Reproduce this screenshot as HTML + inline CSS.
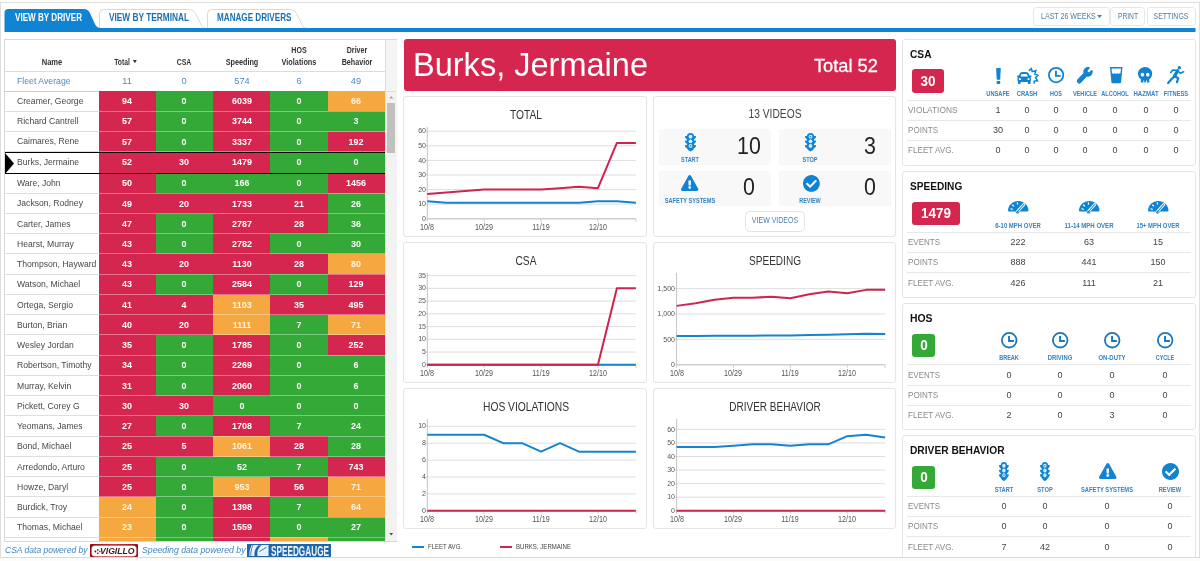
<!DOCTYPE html>
<html lang="en"><head><meta charset="utf-8"><title>Driver Scorecard</title>
<style>
html,body{margin:0;padding:0}
body{width:1200px;height:561px;overflow:hidden;position:relative;background:#fcfcfa;font-family:"Liberation Sans",sans-serif}
#frame{position:absolute;left:0;top:2px;width:1197.6px;height:555px;border:1px solid #dedede;background:#fff}
#mask{position:absolute;left:0;top:557px;width:1200px;height:4px;background:#fcfcfa;border-top:1px solid #dadada;box-sizing:border-box}
.t{position:absolute;white-space:nowrap;line-height:1;display:block}
svg{display:block;overflow:visible}
</style></head><body>
<div id="frame"></div>
<svg style="position:absolute;left:0;top:0" width="1200" height="36" viewBox="0 0 1200 36">
<path d="M99.500 28.500V13.500q0-4 4-4H188.500q5 0 7.500 5l5.500 11q1.500 3 5 3z" fill="#fff" stroke="#d9d9d9" stroke-width="1"/>
<path d="M207.500 28.500V13.500q0-4 4-4H289.500q5 0 7.500 5l5.500 11q1.500 3 5 3z" fill="#fff" stroke="#d9d9d9" stroke-width="1"/>
<path d="M4.500 32V13q0-4 4-4H83.500q4.500 0 6.500 4.200l5.200 11.300q1.800 3.500 5.800 3.500H1195.500V32z" fill="#1083d3"/>
</svg>
<span class="t" style="left:15.20px;top:12.93px;font-size:10px;color:#fff;transform-origin:0 0;transform:scaleX(0.8110);font-weight:bold">VIEW BY DRIVER</span>
<span class="t" style="left:109.20px;top:12.93px;font-size:10px;color:#186fb3;transform-origin:0 0;transform:scaleX(0.8291);font-weight:bold">VIEW BY TERMINAL</span>
<span class="t" style="left:217.20px;top:12.93px;font-size:10px;color:#186fb3;transform-origin:0 0;transform:scaleX(0.8126);font-weight:bold">MANAGE DRIVERS</span>
<div style="position:absolute;left:1033.40px;top:7.00px;width:74.20px;height:17.40px;border:1px solid #e6e6e6;border-radius:3.5px;background:#fff"></div>
<div style="position:absolute;left:1110.30px;top:7.00px;width:33.00px;height:17.40px;border:1px solid #e6e6e6;border-radius:3.5px;background:#fff"></div>
<div style="position:absolute;left:1146.80px;top:7.00px;width:47.40px;height:17.40px;border:1px solid #e6e6e6;border-radius:3.5px;background:#fff"></div>
<span class="t" style="left:1040.50px;top:11.78px;font-size:9px;color:#4c7ea6;transform-origin:0 0;transform:scaleX(0.7844)">LAST 26 WEEKS</span>
<svg style="position:absolute;left:1097.3px;top:15.2px" width="5" height="3" viewBox="0 0 5 3"><path d="M0 0h5L2.500 3z" fill="#4c7ea6"/></svg>
<span class="t" style="left:1127.80px;top:11.78px;font-size:9px;color:#4c7ea6;transform-origin:50% 0;transform:translateX(-50%) scaleX(0.7481)">PRINT</span>
<span class="t" style="left:1171.30px;top:11.78px;font-size:9px;color:#4c7ea6;transform-origin:50% 0;transform:translateX(-50%) scaleX(0.7777)">SETTINGS</span>
<div style="position:absolute;left:4.00px;top:39.00px;width:392.60px;height:502.80px;border:1px solid #d8d8d8;background:#fff;box-sizing:border-box"></div>
<span class="t" style="left:51.70px;top:57.50px;font-size:8.5px;color:#333;transform-origin:50% 0;transform:translateX(-50%) scaleX(0.8898);font-weight:bold">Name</span>
<span class="t" style="left:121.90px;top:57.50px;font-size:8.5px;color:#333;transform-origin:50% 0;transform:translateX(-50%) scaleX(0.7929);font-weight:bold">Total</span>
<svg style="position:absolute;left:133.2px;top:60.4px" width="3.800" height="3.400" viewBox="0 0 4 3.500"><path d="M0 0h4L2 3.500z" fill="#333"/></svg>
<span class="t" style="left:184.00px;top:57.50px;font-size:8.5px;color:#333;transform-origin:50% 0;transform:translateX(-50%) scaleX(0.8135);font-weight:bold">CSA</span>
<span class="t" style="left:241.90px;top:57.50px;font-size:8.5px;color:#333;transform-origin:50% 0;transform:translateX(-50%) scaleX(0.8522);font-weight:bold">Speeding</span>
<span class="t" style="left:299.10px;top:45.80px;font-size:8.5px;color:#333;transform-origin:50% 0;transform:translateX(-50%) scaleX(0.8306);font-weight:bold">HOS</span>
<span class="t" style="left:299.10px;top:57.50px;font-size:8.5px;color:#333;transform-origin:50% 0;transform:translateX(-50%) scaleX(0.8600);font-weight:bold">Violations</span>
<span class="t" style="left:356.50px;top:45.80px;font-size:8.5px;color:#333;transform-origin:50% 0;transform:translateX(-50%) scaleX(0.8343);font-weight:bold">Driver</span>
<span class="t" style="left:356.50px;top:57.50px;font-size:8.5px;color:#333;transform-origin:50% 0;transform:translateX(-50%) scaleX(0.8412);font-weight:bold">Behavior</span>
<div style="position:absolute;left:5.00px;top:71.00px;width:380.00px;height:1.00px;background:#dcdcdc"></div>
<div style="position:absolute;left:5.00px;top:90.60px;width:380.00px;height:1.00px;background:#d0d0d0"></div>
<span class="t" style="left:16.80px;top:76.36px;font-size:9.5px;color:#5289b8;transform-origin:0 0;transform:scaleX(0.9170)">Fleet Average</span>
<span class="t" style="left:127.35px;top:76.36px;font-size:9.5px;color:#5289b8;transform-origin:50% 0;transform:translateX(-50%) scaleX(0.9700)">11</span>
<span class="t" style="left:184.35px;top:76.36px;font-size:9.5px;color:#5289b8;transform-origin:50% 0;transform:translateX(-50%) scaleX(0.9700)">0</span>
<span class="t" style="left:241.65px;top:76.36px;font-size:9.5px;color:#5289b8;transform-origin:50% 0;transform:translateX(-50%) scaleX(0.9700)">574</span>
<span class="t" style="left:299.05px;top:76.36px;font-size:9.5px;color:#5289b8;transform-origin:50% 0;transform:translateX(-50%) scaleX(0.9700)">6</span>
<span class="t" style="left:356.40px;top:76.36px;font-size:9.5px;color:#5289b8;transform-origin:50% 0;transform:translateX(-50%) scaleX(0.9700)">49</span>
<div style="position:absolute;left:385.00px;top:40.00px;width:10.60px;height:500.80px;background:#f2f2f2;border-left:1px solid #e4e4e4"></div>
<div style="position:absolute;left:385.00px;top:40.00px;width:10.60px;height:51.50px;background:#f4f4f4;border-left:1px solid #dcdcdc;border-bottom:1px solid #dcdcdc;box-sizing:border-box"></div>
<div style="position:absolute;left:386.80px;top:102.50px;width:8.00px;height:50.50px;background:#c1c1c1"></div>
<svg style="position:absolute;left:388.7px;top:96.2px" width="4.400" height="2.400" viewBox="0 0 5 3"><path d="M0 3h5L2.500 0z" fill="#a3a3a3"/></svg>
<svg style="position:absolute;left:388.7px;top:532.5px" width="4.400" height="2.400" viewBox="0 0 5 3"><path d="M0 0h5L2.500 3z" fill="#505050"/></svg>
<div style="position:absolute;left:99.00px;top:91.00px;width:56.70px;height:20.85px;background:#d5264f"></div>
<div style="position:absolute;left:155.70px;top:91.00px;width:57.30px;height:20.85px;background:#35a937"></div>
<div style="position:absolute;left:213.00px;top:91.00px;width:57.30px;height:20.85px;background:#d5264f"></div>
<div style="position:absolute;left:270.30px;top:91.00px;width:57.50px;height:20.85px;background:#35a937"></div>
<div style="position:absolute;left:327.80px;top:91.00px;width:57.20px;height:20.85px;background:#f5a840"></div>
<div style="position:absolute;left:99.00px;top:111.25px;width:56.70px;height:20.85px;background:#d5264f"></div>
<div style="position:absolute;left:155.70px;top:111.25px;width:57.30px;height:20.85px;background:#35a937"></div>
<div style="position:absolute;left:213.00px;top:111.25px;width:57.30px;height:20.85px;background:#d5264f"></div>
<div style="position:absolute;left:270.30px;top:111.25px;width:57.50px;height:20.85px;background:#35a937"></div>
<div style="position:absolute;left:327.80px;top:111.25px;width:57.20px;height:20.85px;background:#35a937"></div>
<div style="position:absolute;left:99.00px;top:131.50px;width:56.70px;height:20.85px;background:#d5264f"></div>
<div style="position:absolute;left:155.70px;top:131.50px;width:57.30px;height:20.85px;background:#35a937"></div>
<div style="position:absolute;left:213.00px;top:131.50px;width:57.30px;height:20.85px;background:#d5264f"></div>
<div style="position:absolute;left:270.30px;top:131.50px;width:57.50px;height:20.85px;background:#35a937"></div>
<div style="position:absolute;left:327.80px;top:131.50px;width:57.20px;height:20.85px;background:#d5264f"></div>
<div style="position:absolute;left:99.00px;top:151.75px;width:56.70px;height:22.10px;background:#d5264f"></div>
<div style="position:absolute;left:155.70px;top:151.75px;width:57.30px;height:22.10px;background:#d5264f"></div>
<div style="position:absolute;left:213.00px;top:151.75px;width:57.30px;height:22.10px;background:#d5264f"></div>
<div style="position:absolute;left:270.30px;top:151.75px;width:57.50px;height:22.10px;background:#35a937"></div>
<div style="position:absolute;left:327.80px;top:151.75px;width:57.20px;height:22.10px;background:#35a937"></div>
<div style="position:absolute;left:99.00px;top:173.25px;width:56.70px;height:20.84px;background:#d5264f"></div>
<div style="position:absolute;left:155.70px;top:173.25px;width:57.30px;height:20.84px;background:#35a937"></div>
<div style="position:absolute;left:213.00px;top:173.25px;width:57.30px;height:20.84px;background:#35a937"></div>
<div style="position:absolute;left:270.30px;top:173.25px;width:57.50px;height:20.84px;background:#35a937"></div>
<div style="position:absolute;left:327.80px;top:173.25px;width:57.20px;height:20.84px;background:#d5264f"></div>
<div style="position:absolute;left:99.00px;top:193.49px;width:56.70px;height:20.83px;background:#d5264f"></div>
<div style="position:absolute;left:155.70px;top:193.49px;width:57.30px;height:20.83px;background:#d5264f"></div>
<div style="position:absolute;left:213.00px;top:193.49px;width:57.30px;height:20.83px;background:#d5264f"></div>
<div style="position:absolute;left:270.30px;top:193.49px;width:57.50px;height:20.83px;background:#d5264f"></div>
<div style="position:absolute;left:327.80px;top:193.49px;width:57.20px;height:20.83px;background:#35a937"></div>
<div style="position:absolute;left:99.00px;top:213.72px;width:56.70px;height:20.83px;background:#d5264f"></div>
<div style="position:absolute;left:155.70px;top:213.72px;width:57.30px;height:20.83px;background:#35a937"></div>
<div style="position:absolute;left:213.00px;top:213.72px;width:57.30px;height:20.83px;background:#d5264f"></div>
<div style="position:absolute;left:270.30px;top:213.72px;width:57.50px;height:20.83px;background:#d5264f"></div>
<div style="position:absolute;left:327.80px;top:213.72px;width:57.20px;height:20.83px;background:#35a937"></div>
<div style="position:absolute;left:99.00px;top:233.95px;width:56.70px;height:20.84px;background:#d5264f"></div>
<div style="position:absolute;left:155.70px;top:233.95px;width:57.30px;height:20.84px;background:#35a937"></div>
<div style="position:absolute;left:213.00px;top:233.95px;width:57.30px;height:20.84px;background:#d5264f"></div>
<div style="position:absolute;left:270.30px;top:233.95px;width:57.50px;height:20.84px;background:#35a937"></div>
<div style="position:absolute;left:327.80px;top:233.95px;width:57.20px;height:20.84px;background:#35a937"></div>
<div style="position:absolute;left:99.00px;top:254.19px;width:56.70px;height:20.84px;background:#d5264f"></div>
<div style="position:absolute;left:155.70px;top:254.19px;width:57.30px;height:20.84px;background:#d5264f"></div>
<div style="position:absolute;left:213.00px;top:254.19px;width:57.30px;height:20.84px;background:#d5264f"></div>
<div style="position:absolute;left:270.30px;top:254.19px;width:57.50px;height:20.84px;background:#d5264f"></div>
<div style="position:absolute;left:327.80px;top:254.19px;width:57.20px;height:20.84px;background:#f5a840"></div>
<div style="position:absolute;left:99.00px;top:274.43px;width:56.70px;height:20.83px;background:#d5264f"></div>
<div style="position:absolute;left:155.70px;top:274.43px;width:57.30px;height:20.83px;background:#35a937"></div>
<div style="position:absolute;left:213.00px;top:274.43px;width:57.30px;height:20.83px;background:#d5264f"></div>
<div style="position:absolute;left:270.30px;top:274.43px;width:57.50px;height:20.83px;background:#35a937"></div>
<div style="position:absolute;left:327.80px;top:274.43px;width:57.20px;height:20.83px;background:#d5264f"></div>
<div style="position:absolute;left:99.00px;top:294.66px;width:56.70px;height:20.84px;background:#d5264f"></div>
<div style="position:absolute;left:155.70px;top:294.66px;width:57.30px;height:20.84px;background:#d5264f"></div>
<div style="position:absolute;left:213.00px;top:294.66px;width:57.30px;height:20.84px;background:#f5a840"></div>
<div style="position:absolute;left:270.30px;top:294.66px;width:57.50px;height:20.84px;background:#d5264f"></div>
<div style="position:absolute;left:327.80px;top:294.66px;width:57.20px;height:20.84px;background:#d5264f"></div>
<div style="position:absolute;left:99.00px;top:314.89px;width:56.70px;height:20.84px;background:#d5264f"></div>
<div style="position:absolute;left:155.70px;top:314.89px;width:57.30px;height:20.84px;background:#d5264f"></div>
<div style="position:absolute;left:213.00px;top:314.89px;width:57.30px;height:20.84px;background:#f5a840"></div>
<div style="position:absolute;left:270.30px;top:314.89px;width:57.50px;height:20.84px;background:#35a937"></div>
<div style="position:absolute;left:327.80px;top:314.89px;width:57.20px;height:20.84px;background:#f5a840"></div>
<div style="position:absolute;left:99.00px;top:335.13px;width:56.70px;height:20.84px;background:#d5264f"></div>
<div style="position:absolute;left:155.70px;top:335.13px;width:57.30px;height:20.84px;background:#35a937"></div>
<div style="position:absolute;left:213.00px;top:335.13px;width:57.30px;height:20.84px;background:#d5264f"></div>
<div style="position:absolute;left:270.30px;top:335.13px;width:57.50px;height:20.84px;background:#35a937"></div>
<div style="position:absolute;left:327.80px;top:335.13px;width:57.20px;height:20.84px;background:#d5264f"></div>
<div style="position:absolute;left:99.00px;top:355.37px;width:56.70px;height:20.84px;background:#d5264f"></div>
<div style="position:absolute;left:155.70px;top:355.37px;width:57.30px;height:20.84px;background:#35a937"></div>
<div style="position:absolute;left:213.00px;top:355.37px;width:57.30px;height:20.84px;background:#d5264f"></div>
<div style="position:absolute;left:270.30px;top:355.37px;width:57.50px;height:20.84px;background:#35a937"></div>
<div style="position:absolute;left:327.80px;top:355.37px;width:57.20px;height:20.84px;background:#35a937"></div>
<div style="position:absolute;left:99.00px;top:375.60px;width:56.70px;height:20.83px;background:#d5264f"></div>
<div style="position:absolute;left:155.70px;top:375.60px;width:57.30px;height:20.83px;background:#35a937"></div>
<div style="position:absolute;left:213.00px;top:375.60px;width:57.30px;height:20.83px;background:#d5264f"></div>
<div style="position:absolute;left:270.30px;top:375.60px;width:57.50px;height:20.83px;background:#35a937"></div>
<div style="position:absolute;left:327.80px;top:375.60px;width:57.20px;height:20.83px;background:#35a937"></div>
<div style="position:absolute;left:99.00px;top:395.83px;width:56.70px;height:20.84px;background:#d5264f"></div>
<div style="position:absolute;left:155.70px;top:395.83px;width:57.30px;height:20.84px;background:#d5264f"></div>
<div style="position:absolute;left:213.00px;top:395.83px;width:57.30px;height:20.84px;background:#35a937"></div>
<div style="position:absolute;left:270.30px;top:395.83px;width:57.50px;height:20.84px;background:#35a937"></div>
<div style="position:absolute;left:327.80px;top:395.83px;width:57.20px;height:20.84px;background:#35a937"></div>
<div style="position:absolute;left:99.00px;top:416.07px;width:56.70px;height:20.84px;background:#d5264f"></div>
<div style="position:absolute;left:155.70px;top:416.07px;width:57.30px;height:20.84px;background:#35a937"></div>
<div style="position:absolute;left:213.00px;top:416.07px;width:57.30px;height:20.84px;background:#d5264f"></div>
<div style="position:absolute;left:270.30px;top:416.07px;width:57.50px;height:20.84px;background:#35a937"></div>
<div style="position:absolute;left:327.80px;top:416.07px;width:57.20px;height:20.84px;background:#35a937"></div>
<div style="position:absolute;left:99.00px;top:436.31px;width:56.70px;height:20.83px;background:#d5264f"></div>
<div style="position:absolute;left:155.70px;top:436.31px;width:57.30px;height:20.83px;background:#d5264f"></div>
<div style="position:absolute;left:213.00px;top:436.31px;width:57.30px;height:20.83px;background:#f5a840"></div>
<div style="position:absolute;left:270.30px;top:436.31px;width:57.50px;height:20.83px;background:#d5264f"></div>
<div style="position:absolute;left:327.80px;top:436.31px;width:57.20px;height:20.83px;background:#35a937"></div>
<div style="position:absolute;left:99.00px;top:456.54px;width:56.70px;height:20.84px;background:#d5264f"></div>
<div style="position:absolute;left:155.70px;top:456.54px;width:57.30px;height:20.84px;background:#35a937"></div>
<div style="position:absolute;left:213.00px;top:456.54px;width:57.30px;height:20.84px;background:#35a937"></div>
<div style="position:absolute;left:270.30px;top:456.54px;width:57.50px;height:20.84px;background:#35a937"></div>
<div style="position:absolute;left:327.80px;top:456.54px;width:57.20px;height:20.84px;background:#d5264f"></div>
<div style="position:absolute;left:99.00px;top:476.77px;width:56.70px;height:20.84px;background:#d5264f"></div>
<div style="position:absolute;left:155.70px;top:476.77px;width:57.30px;height:20.84px;background:#35a937"></div>
<div style="position:absolute;left:213.00px;top:476.77px;width:57.30px;height:20.84px;background:#f5a840"></div>
<div style="position:absolute;left:270.30px;top:476.77px;width:57.50px;height:20.84px;background:#d5264f"></div>
<div style="position:absolute;left:327.80px;top:476.77px;width:57.20px;height:20.84px;background:#f5a840"></div>
<div style="position:absolute;left:99.00px;top:497.01px;width:56.70px;height:20.84px;background:#f5a840"></div>
<div style="position:absolute;left:155.70px;top:497.01px;width:57.30px;height:20.84px;background:#35a937"></div>
<div style="position:absolute;left:213.00px;top:497.01px;width:57.30px;height:20.84px;background:#d5264f"></div>
<div style="position:absolute;left:270.30px;top:497.01px;width:57.50px;height:20.84px;background:#35a937"></div>
<div style="position:absolute;left:327.80px;top:497.01px;width:57.20px;height:20.84px;background:#f5a840"></div>
<div style="position:absolute;left:99.00px;top:517.25px;width:56.70px;height:20.84px;background:#f5a840"></div>
<div style="position:absolute;left:155.70px;top:517.25px;width:57.30px;height:20.84px;background:#35a937"></div>
<div style="position:absolute;left:213.00px;top:517.25px;width:57.30px;height:20.84px;background:#d5264f"></div>
<div style="position:absolute;left:270.30px;top:517.25px;width:57.50px;height:20.84px;background:#35a937"></div>
<div style="position:absolute;left:327.80px;top:517.25px;width:57.20px;height:20.84px;background:#35a937"></div>
<div style="position:absolute;left:99.00px;top:537.48px;width:56.70px;height:3.32px;background:#f5a840"></div>
<div style="position:absolute;left:155.70px;top:537.48px;width:57.30px;height:3.32px;background:#35a937"></div>
<div style="position:absolute;left:213.00px;top:537.48px;width:57.30px;height:3.32px;background:#d5264f"></div>
<div style="position:absolute;left:270.30px;top:537.48px;width:57.50px;height:3.32px;background:#f5a840"></div>
<div style="position:absolute;left:327.80px;top:537.48px;width:57.20px;height:3.32px;background:#35a937"></div>
<div style="position:absolute;left:5.00px;top:110.55px;width:94.00px;height:1.00px;background:#dedede"></div>
<div style="position:absolute;left:99.00px;top:110.55px;width:286.00px;height:1.00px;background:rgba(255,255,255,.36)"></div>
<span class="t" style="left:17.10px;top:95.96px;font-size:9.5px;color:#484848;transform-origin:0 0;transform:scaleX(0.9050)">Creamer, George</span>
<span class="t" style="left:127.35px;top:96.06px;font-size:9.5px;color:#fff;transform-origin:50% 0;transform:translateX(-50%) scaleX(0.9400);font-weight:bold">94</span>
<span class="t" style="left:184.35px;top:96.06px;font-size:9.5px;color:#fff;transform-origin:50% 0;transform:translateX(-50%) scaleX(0.9400);font-weight:bold">0</span>
<span class="t" style="left:241.65px;top:96.06px;font-size:9.5px;color:#fff;transform-origin:50% 0;transform:translateX(-50%) scaleX(0.9400);font-weight:bold">6039</span>
<span class="t" style="left:299.05px;top:96.06px;font-size:9.5px;color:#fff;transform-origin:50% 0;transform:translateX(-50%) scaleX(0.9400);font-weight:bold">0</span>
<span class="t" style="left:356.40px;top:96.06px;font-size:9.5px;color:#fff4e0;transform-origin:50% 0;transform:translateX(-50%) scaleX(0.9400);font-weight:bold">66</span>
<div style="position:absolute;left:5.00px;top:130.80px;width:94.00px;height:1.00px;background:#dedede"></div>
<div style="position:absolute;left:99.00px;top:130.80px;width:286.00px;height:1.00px;background:rgba(255,255,255,.36)"></div>
<span class="t" style="left:17.10px;top:116.21px;font-size:9.5px;color:#484848;transform-origin:0 0;transform:scaleX(0.9050)">Richard Cantrell</span>
<span class="t" style="left:127.35px;top:116.31px;font-size:9.5px;color:#fff;transform-origin:50% 0;transform:translateX(-50%) scaleX(0.9400);font-weight:bold">57</span>
<span class="t" style="left:184.35px;top:116.31px;font-size:9.5px;color:#fff;transform-origin:50% 0;transform:translateX(-50%) scaleX(0.9400);font-weight:bold">0</span>
<span class="t" style="left:241.65px;top:116.31px;font-size:9.5px;color:#fff;transform-origin:50% 0;transform:translateX(-50%) scaleX(0.9400);font-weight:bold">3744</span>
<span class="t" style="left:299.05px;top:116.31px;font-size:9.5px;color:#fff;transform-origin:50% 0;transform:translateX(-50%) scaleX(0.9400);font-weight:bold">0</span>
<span class="t" style="left:356.40px;top:116.31px;font-size:9.5px;color:#fff;transform-origin:50% 0;transform:translateX(-50%) scaleX(0.9400);font-weight:bold">3</span>
<div style="position:absolute;left:5.00px;top:151.05px;width:94.00px;height:1.00px;background:#dedede"></div>
<div style="position:absolute;left:99.00px;top:151.05px;width:286.00px;height:1.00px;background:rgba(255,255,255,.36)"></div>
<span class="t" style="left:17.10px;top:136.46px;font-size:9.5px;color:#484848;transform-origin:0 0;transform:scaleX(0.9050)">Caimares, Rene</span>
<span class="t" style="left:127.35px;top:136.56px;font-size:9.5px;color:#fff;transform-origin:50% 0;transform:translateX(-50%) scaleX(0.9400);font-weight:bold">57</span>
<span class="t" style="left:184.35px;top:136.56px;font-size:9.5px;color:#fff;transform-origin:50% 0;transform:translateX(-50%) scaleX(0.9400);font-weight:bold">0</span>
<span class="t" style="left:241.65px;top:136.56px;font-size:9.5px;color:#fff;transform-origin:50% 0;transform:translateX(-50%) scaleX(0.9400);font-weight:bold">3337</span>
<span class="t" style="left:299.05px;top:136.56px;font-size:9.5px;color:#fff;transform-origin:50% 0;transform:translateX(-50%) scaleX(0.9400);font-weight:bold">0</span>
<span class="t" style="left:356.40px;top:136.56px;font-size:9.5px;color:#fff;transform-origin:50% 0;transform:translateX(-50%) scaleX(0.9400);font-weight:bold">192</span>
<div style="position:absolute;left:5.00px;top:172.55px;width:94.00px;height:1.00px;background:#dedede"></div>
<div style="position:absolute;left:99.00px;top:172.55px;width:286.00px;height:1.00px;background:rgba(255,255,255,.36)"></div>
<span class="t" style="left:17.10px;top:157.11px;font-size:9.5px;color:#484848;transform-origin:0 0;transform:scaleX(0.9050)">Burks, Jermaine</span>
<span class="t" style="left:127.35px;top:157.21px;font-size:9.5px;color:#fff;transform-origin:50% 0;transform:translateX(-50%) scaleX(0.9400);font-weight:bold">52</span>
<span class="t" style="left:184.35px;top:157.21px;font-size:9.5px;color:#fff;transform-origin:50% 0;transform:translateX(-50%) scaleX(0.9400);font-weight:bold">30</span>
<span class="t" style="left:241.65px;top:157.21px;font-size:9.5px;color:#fff;transform-origin:50% 0;transform:translateX(-50%) scaleX(0.9400);font-weight:bold">1479</span>
<span class="t" style="left:299.05px;top:157.21px;font-size:9.5px;color:#fff;transform-origin:50% 0;transform:translateX(-50%) scaleX(0.9400);font-weight:bold">0</span>
<span class="t" style="left:356.40px;top:157.21px;font-size:9.5px;color:#fff;transform-origin:50% 0;transform:translateX(-50%) scaleX(0.9400);font-weight:bold">0</span>
<div style="position:absolute;left:5.00px;top:192.79px;width:94.00px;height:1.00px;background:#dedede"></div>
<div style="position:absolute;left:99.00px;top:192.79px;width:286.00px;height:1.00px;background:rgba(255,255,255,.36)"></div>
<span class="t" style="left:17.10px;top:178.21px;font-size:9.5px;color:#484848;transform-origin:0 0;transform:scaleX(0.9050)">Ware, John</span>
<span class="t" style="left:127.35px;top:178.31px;font-size:9.5px;color:#fff;transform-origin:50% 0;transform:translateX(-50%) scaleX(0.9400);font-weight:bold">50</span>
<span class="t" style="left:184.35px;top:178.31px;font-size:9.5px;color:#fff;transform-origin:50% 0;transform:translateX(-50%) scaleX(0.9400);font-weight:bold">0</span>
<span class="t" style="left:241.65px;top:178.31px;font-size:9.5px;color:#fff;transform-origin:50% 0;transform:translateX(-50%) scaleX(0.9400);font-weight:bold">166</span>
<span class="t" style="left:299.05px;top:178.31px;font-size:9.5px;color:#fff;transform-origin:50% 0;transform:translateX(-50%) scaleX(0.9400);font-weight:bold">0</span>
<span class="t" style="left:356.40px;top:178.31px;font-size:9.5px;color:#fff;transform-origin:50% 0;transform:translateX(-50%) scaleX(0.9400);font-weight:bold">1456</span>
<div style="position:absolute;left:5.00px;top:213.02px;width:94.00px;height:1.00px;background:#dedede"></div>
<div style="position:absolute;left:99.00px;top:213.02px;width:286.00px;height:1.00px;background:rgba(255,255,255,.36)"></div>
<span class="t" style="left:17.10px;top:198.44px;font-size:9.5px;color:#484848;transform-origin:0 0;transform:scaleX(0.9050)">Jackson, Rodney</span>
<span class="t" style="left:127.35px;top:198.54px;font-size:9.5px;color:#fff;transform-origin:50% 0;transform:translateX(-50%) scaleX(0.9400);font-weight:bold">49</span>
<span class="t" style="left:184.35px;top:198.54px;font-size:9.5px;color:#fff;transform-origin:50% 0;transform:translateX(-50%) scaleX(0.9400);font-weight:bold">20</span>
<span class="t" style="left:241.65px;top:198.54px;font-size:9.5px;color:#fff;transform-origin:50% 0;transform:translateX(-50%) scaleX(0.9400);font-weight:bold">1733</span>
<span class="t" style="left:299.05px;top:198.54px;font-size:9.5px;color:#fff;transform-origin:50% 0;transform:translateX(-50%) scaleX(0.9400);font-weight:bold">21</span>
<span class="t" style="left:356.40px;top:198.54px;font-size:9.5px;color:#fff;transform-origin:50% 0;transform:translateX(-50%) scaleX(0.9400);font-weight:bold">26</span>
<div style="position:absolute;left:5.00px;top:233.25px;width:94.00px;height:1.00px;background:#dedede"></div>
<div style="position:absolute;left:99.00px;top:233.25px;width:286.00px;height:1.00px;background:rgba(255,255,255,.36)"></div>
<span class="t" style="left:17.10px;top:218.68px;font-size:9.5px;color:#484848;transform-origin:0 0;transform:scaleX(0.9050)">Carter, James</span>
<span class="t" style="left:127.35px;top:218.78px;font-size:9.5px;color:#fff;transform-origin:50% 0;transform:translateX(-50%) scaleX(0.9400);font-weight:bold">47</span>
<span class="t" style="left:184.35px;top:218.78px;font-size:9.5px;color:#fff;transform-origin:50% 0;transform:translateX(-50%) scaleX(0.9400);font-weight:bold">0</span>
<span class="t" style="left:241.65px;top:218.78px;font-size:9.5px;color:#fff;transform-origin:50% 0;transform:translateX(-50%) scaleX(0.9400);font-weight:bold">2787</span>
<span class="t" style="left:299.05px;top:218.78px;font-size:9.5px;color:#fff;transform-origin:50% 0;transform:translateX(-50%) scaleX(0.9400);font-weight:bold">28</span>
<span class="t" style="left:356.40px;top:218.78px;font-size:9.5px;color:#fff;transform-origin:50% 0;transform:translateX(-50%) scaleX(0.9400);font-weight:bold">36</span>
<div style="position:absolute;left:5.00px;top:253.49px;width:94.00px;height:1.00px;background:#dedede"></div>
<div style="position:absolute;left:99.00px;top:253.49px;width:286.00px;height:1.00px;background:rgba(255,255,255,.36)"></div>
<span class="t" style="left:17.10px;top:238.91px;font-size:9.5px;color:#484848;transform-origin:0 0;transform:scaleX(0.9050)">Hearst, Murray</span>
<span class="t" style="left:127.35px;top:239.01px;font-size:9.5px;color:#fff;transform-origin:50% 0;transform:translateX(-50%) scaleX(0.9400);font-weight:bold">43</span>
<span class="t" style="left:184.35px;top:239.01px;font-size:9.5px;color:#fff;transform-origin:50% 0;transform:translateX(-50%) scaleX(0.9400);font-weight:bold">0</span>
<span class="t" style="left:241.65px;top:239.01px;font-size:9.5px;color:#fff;transform-origin:50% 0;transform:translateX(-50%) scaleX(0.9400);font-weight:bold">2782</span>
<span class="t" style="left:299.05px;top:239.01px;font-size:9.5px;color:#fff;transform-origin:50% 0;transform:translateX(-50%) scaleX(0.9400);font-weight:bold">0</span>
<span class="t" style="left:356.40px;top:239.01px;font-size:9.5px;color:#fff;transform-origin:50% 0;transform:translateX(-50%) scaleX(0.9400);font-weight:bold">30</span>
<div style="position:absolute;left:5.00px;top:273.73px;width:94.00px;height:1.00px;background:#dedede"></div>
<div style="position:absolute;left:99.00px;top:273.73px;width:286.00px;height:1.00px;background:rgba(255,255,255,.36)"></div>
<span class="t" style="left:17.10px;top:259.15px;font-size:9.5px;color:#484848;transform-origin:0 0;transform:scaleX(0.9050)">Thompson, Hayward</span>
<span class="t" style="left:127.35px;top:259.25px;font-size:9.5px;color:#fff;transform-origin:50% 0;transform:translateX(-50%) scaleX(0.9400);font-weight:bold">43</span>
<span class="t" style="left:184.35px;top:259.25px;font-size:9.5px;color:#fff;transform-origin:50% 0;transform:translateX(-50%) scaleX(0.9400);font-weight:bold">20</span>
<span class="t" style="left:241.65px;top:259.25px;font-size:9.5px;color:#fff;transform-origin:50% 0;transform:translateX(-50%) scaleX(0.9400);font-weight:bold">1130</span>
<span class="t" style="left:299.05px;top:259.25px;font-size:9.5px;color:#fff;transform-origin:50% 0;transform:translateX(-50%) scaleX(0.9400);font-weight:bold">28</span>
<span class="t" style="left:356.40px;top:259.25px;font-size:9.5px;color:#fff4e0;transform-origin:50% 0;transform:translateX(-50%) scaleX(0.9400);font-weight:bold">80</span>
<div style="position:absolute;left:5.00px;top:293.96px;width:94.00px;height:1.00px;background:#dedede"></div>
<div style="position:absolute;left:99.00px;top:293.96px;width:286.00px;height:1.00px;background:rgba(255,255,255,.36)"></div>
<span class="t" style="left:17.10px;top:279.38px;font-size:9.5px;color:#484848;transform-origin:0 0;transform:scaleX(0.9050)">Watson, Michael</span>
<span class="t" style="left:127.35px;top:279.48px;font-size:9.5px;color:#fff;transform-origin:50% 0;transform:translateX(-50%) scaleX(0.9400);font-weight:bold">43</span>
<span class="t" style="left:184.35px;top:279.48px;font-size:9.5px;color:#fff;transform-origin:50% 0;transform:translateX(-50%) scaleX(0.9400);font-weight:bold">0</span>
<span class="t" style="left:241.65px;top:279.48px;font-size:9.5px;color:#fff;transform-origin:50% 0;transform:translateX(-50%) scaleX(0.9400);font-weight:bold">2584</span>
<span class="t" style="left:299.05px;top:279.48px;font-size:9.5px;color:#fff;transform-origin:50% 0;transform:translateX(-50%) scaleX(0.9400);font-weight:bold">0</span>
<span class="t" style="left:356.40px;top:279.48px;font-size:9.5px;color:#fff;transform-origin:50% 0;transform:translateX(-50%) scaleX(0.9400);font-weight:bold">129</span>
<div style="position:absolute;left:5.00px;top:314.19px;width:94.00px;height:1.00px;background:#dedede"></div>
<div style="position:absolute;left:99.00px;top:314.19px;width:286.00px;height:1.00px;background:rgba(255,255,255,.36)"></div>
<span class="t" style="left:17.10px;top:299.62px;font-size:9.5px;color:#484848;transform-origin:0 0;transform:scaleX(0.9050)">Ortega, Sergio</span>
<span class="t" style="left:127.35px;top:299.72px;font-size:9.5px;color:#fff;transform-origin:50% 0;transform:translateX(-50%) scaleX(0.9400);font-weight:bold">41</span>
<span class="t" style="left:184.35px;top:299.72px;font-size:9.5px;color:#fff;transform-origin:50% 0;transform:translateX(-50%) scaleX(0.9400);font-weight:bold">4</span>
<span class="t" style="left:241.65px;top:299.72px;font-size:9.5px;color:#fff4e0;transform-origin:50% 0;transform:translateX(-50%) scaleX(0.9400);font-weight:bold">1103</span>
<span class="t" style="left:299.05px;top:299.72px;font-size:9.5px;color:#fff;transform-origin:50% 0;transform:translateX(-50%) scaleX(0.9400);font-weight:bold">35</span>
<span class="t" style="left:356.40px;top:299.72px;font-size:9.5px;color:#fff;transform-origin:50% 0;transform:translateX(-50%) scaleX(0.9400);font-weight:bold">495</span>
<div style="position:absolute;left:5.00px;top:334.43px;width:94.00px;height:1.00px;background:#dedede"></div>
<div style="position:absolute;left:99.00px;top:334.43px;width:286.00px;height:1.00px;background:rgba(255,255,255,.36)"></div>
<span class="t" style="left:17.10px;top:319.85px;font-size:9.5px;color:#484848;transform-origin:0 0;transform:scaleX(0.9050)">Burton, Brian</span>
<span class="t" style="left:127.35px;top:319.95px;font-size:9.5px;color:#fff;transform-origin:50% 0;transform:translateX(-50%) scaleX(0.9400);font-weight:bold">40</span>
<span class="t" style="left:184.35px;top:319.95px;font-size:9.5px;color:#fff;transform-origin:50% 0;transform:translateX(-50%) scaleX(0.9400);font-weight:bold">20</span>
<span class="t" style="left:241.65px;top:319.95px;font-size:9.5px;color:#fff4e0;transform-origin:50% 0;transform:translateX(-50%) scaleX(0.9400);font-weight:bold">1111</span>
<span class="t" style="left:299.05px;top:319.95px;font-size:9.5px;color:#fff;transform-origin:50% 0;transform:translateX(-50%) scaleX(0.9400);font-weight:bold">7</span>
<span class="t" style="left:356.40px;top:319.95px;font-size:9.5px;color:#fff4e0;transform-origin:50% 0;transform:translateX(-50%) scaleX(0.9400);font-weight:bold">71</span>
<div style="position:absolute;left:5.00px;top:354.67px;width:94.00px;height:1.00px;background:#dedede"></div>
<div style="position:absolute;left:99.00px;top:354.67px;width:286.00px;height:1.00px;background:rgba(255,255,255,.36)"></div>
<span class="t" style="left:17.10px;top:340.09px;font-size:9.5px;color:#484848;transform-origin:0 0;transform:scaleX(0.9050)">Wesley Jordan</span>
<span class="t" style="left:127.35px;top:340.19px;font-size:9.5px;color:#fff;transform-origin:50% 0;transform:translateX(-50%) scaleX(0.9400);font-weight:bold">35</span>
<span class="t" style="left:184.35px;top:340.19px;font-size:9.5px;color:#fff;transform-origin:50% 0;transform:translateX(-50%) scaleX(0.9400);font-weight:bold">0</span>
<span class="t" style="left:241.65px;top:340.19px;font-size:9.5px;color:#fff;transform-origin:50% 0;transform:translateX(-50%) scaleX(0.9400);font-weight:bold">1785</span>
<span class="t" style="left:299.05px;top:340.19px;font-size:9.5px;color:#fff;transform-origin:50% 0;transform:translateX(-50%) scaleX(0.9400);font-weight:bold">0</span>
<span class="t" style="left:356.40px;top:340.19px;font-size:9.5px;color:#fff;transform-origin:50% 0;transform:translateX(-50%) scaleX(0.9400);font-weight:bold">252</span>
<div style="position:absolute;left:5.00px;top:374.90px;width:94.00px;height:1.00px;background:#dedede"></div>
<div style="position:absolute;left:99.00px;top:374.90px;width:286.00px;height:1.00px;background:rgba(255,255,255,.36)"></div>
<span class="t" style="left:17.10px;top:360.32px;font-size:9.5px;color:#484848;transform-origin:0 0;transform:scaleX(0.9050)">Robertson, Timothy</span>
<span class="t" style="left:127.35px;top:360.42px;font-size:9.5px;color:#fff;transform-origin:50% 0;transform:translateX(-50%) scaleX(0.9400);font-weight:bold">34</span>
<span class="t" style="left:184.35px;top:360.42px;font-size:9.5px;color:#fff;transform-origin:50% 0;transform:translateX(-50%) scaleX(0.9400);font-weight:bold">0</span>
<span class="t" style="left:241.65px;top:360.42px;font-size:9.5px;color:#fff;transform-origin:50% 0;transform:translateX(-50%) scaleX(0.9400);font-weight:bold">2269</span>
<span class="t" style="left:299.05px;top:360.42px;font-size:9.5px;color:#fff;transform-origin:50% 0;transform:translateX(-50%) scaleX(0.9400);font-weight:bold">0</span>
<span class="t" style="left:356.40px;top:360.42px;font-size:9.5px;color:#fff;transform-origin:50% 0;transform:translateX(-50%) scaleX(0.9400);font-weight:bold">6</span>
<div style="position:absolute;left:5.00px;top:395.13px;width:94.00px;height:1.00px;background:#dedede"></div>
<div style="position:absolute;left:99.00px;top:395.13px;width:286.00px;height:1.00px;background:rgba(255,255,255,.36)"></div>
<span class="t" style="left:17.10px;top:380.56px;font-size:9.5px;color:#484848;transform-origin:0 0;transform:scaleX(0.9050)">Murray, Kelvin</span>
<span class="t" style="left:127.35px;top:380.66px;font-size:9.5px;color:#fff;transform-origin:50% 0;transform:translateX(-50%) scaleX(0.9400);font-weight:bold">31</span>
<span class="t" style="left:184.35px;top:380.66px;font-size:9.5px;color:#fff;transform-origin:50% 0;transform:translateX(-50%) scaleX(0.9400);font-weight:bold">0</span>
<span class="t" style="left:241.65px;top:380.66px;font-size:9.5px;color:#fff;transform-origin:50% 0;transform:translateX(-50%) scaleX(0.9400);font-weight:bold">2060</span>
<span class="t" style="left:299.05px;top:380.66px;font-size:9.5px;color:#fff;transform-origin:50% 0;transform:translateX(-50%) scaleX(0.9400);font-weight:bold">0</span>
<span class="t" style="left:356.40px;top:380.66px;font-size:9.5px;color:#fff;transform-origin:50% 0;transform:translateX(-50%) scaleX(0.9400);font-weight:bold">6</span>
<div style="position:absolute;left:5.00px;top:415.37px;width:94.00px;height:1.00px;background:#dedede"></div>
<div style="position:absolute;left:99.00px;top:415.37px;width:286.00px;height:1.00px;background:rgba(255,255,255,.36)"></div>
<span class="t" style="left:17.10px;top:400.79px;font-size:9.5px;color:#484848;transform-origin:0 0;transform:scaleX(0.9050)">Pickett, Corey G</span>
<span class="t" style="left:127.35px;top:400.89px;font-size:9.5px;color:#fff;transform-origin:50% 0;transform:translateX(-50%) scaleX(0.9400);font-weight:bold">30</span>
<span class="t" style="left:184.35px;top:400.89px;font-size:9.5px;color:#fff;transform-origin:50% 0;transform:translateX(-50%) scaleX(0.9400);font-weight:bold">30</span>
<span class="t" style="left:241.65px;top:400.89px;font-size:9.5px;color:#fff;transform-origin:50% 0;transform:translateX(-50%) scaleX(0.9400);font-weight:bold">0</span>
<span class="t" style="left:299.05px;top:400.89px;font-size:9.5px;color:#fff;transform-origin:50% 0;transform:translateX(-50%) scaleX(0.9400);font-weight:bold">0</span>
<span class="t" style="left:356.40px;top:400.89px;font-size:9.5px;color:#fff;transform-origin:50% 0;transform:translateX(-50%) scaleX(0.9400);font-weight:bold">0</span>
<div style="position:absolute;left:5.00px;top:435.61px;width:94.00px;height:1.00px;background:#dedede"></div>
<div style="position:absolute;left:99.00px;top:435.61px;width:286.00px;height:1.00px;background:rgba(255,255,255,.36)"></div>
<span class="t" style="left:17.10px;top:421.03px;font-size:9.5px;color:#484848;transform-origin:0 0;transform:scaleX(0.9050)">Yeomans, James</span>
<span class="t" style="left:127.35px;top:421.13px;font-size:9.5px;color:#fff;transform-origin:50% 0;transform:translateX(-50%) scaleX(0.9400);font-weight:bold">27</span>
<span class="t" style="left:184.35px;top:421.13px;font-size:9.5px;color:#fff;transform-origin:50% 0;transform:translateX(-50%) scaleX(0.9400);font-weight:bold">0</span>
<span class="t" style="left:241.65px;top:421.13px;font-size:9.5px;color:#fff;transform-origin:50% 0;transform:translateX(-50%) scaleX(0.9400);font-weight:bold">1708</span>
<span class="t" style="left:299.05px;top:421.13px;font-size:9.5px;color:#fff;transform-origin:50% 0;transform:translateX(-50%) scaleX(0.9400);font-weight:bold">7</span>
<span class="t" style="left:356.40px;top:421.13px;font-size:9.5px;color:#fff;transform-origin:50% 0;transform:translateX(-50%) scaleX(0.9400);font-weight:bold">24</span>
<div style="position:absolute;left:5.00px;top:455.84px;width:94.00px;height:1.00px;background:#dedede"></div>
<div style="position:absolute;left:99.00px;top:455.84px;width:286.00px;height:1.00px;background:rgba(255,255,255,.36)"></div>
<span class="t" style="left:17.10px;top:441.26px;font-size:9.5px;color:#484848;transform-origin:0 0;transform:scaleX(0.9050)">Bond, Michael</span>
<span class="t" style="left:127.35px;top:441.36px;font-size:9.5px;color:#fff;transform-origin:50% 0;transform:translateX(-50%) scaleX(0.9400);font-weight:bold">25</span>
<span class="t" style="left:184.35px;top:441.36px;font-size:9.5px;color:#fff;transform-origin:50% 0;transform:translateX(-50%) scaleX(0.9400);font-weight:bold">5</span>
<span class="t" style="left:241.65px;top:441.36px;font-size:9.5px;color:#fff4e0;transform-origin:50% 0;transform:translateX(-50%) scaleX(0.9400);font-weight:bold">1061</span>
<span class="t" style="left:299.05px;top:441.36px;font-size:9.5px;color:#fff;transform-origin:50% 0;transform:translateX(-50%) scaleX(0.9400);font-weight:bold">28</span>
<span class="t" style="left:356.40px;top:441.36px;font-size:9.5px;color:#fff;transform-origin:50% 0;transform:translateX(-50%) scaleX(0.9400);font-weight:bold">28</span>
<div style="position:absolute;left:5.00px;top:476.07px;width:94.00px;height:1.00px;background:#dedede"></div>
<div style="position:absolute;left:99.00px;top:476.07px;width:286.00px;height:1.00px;background:rgba(255,255,255,.36)"></div>
<span class="t" style="left:17.10px;top:461.50px;font-size:9.5px;color:#484848;transform-origin:0 0;transform:scaleX(0.9050)">Arredondo, Arturo</span>
<span class="t" style="left:127.35px;top:461.60px;font-size:9.5px;color:#fff;transform-origin:50% 0;transform:translateX(-50%) scaleX(0.9400);font-weight:bold">25</span>
<span class="t" style="left:184.35px;top:461.60px;font-size:9.5px;color:#fff;transform-origin:50% 0;transform:translateX(-50%) scaleX(0.9400);font-weight:bold">0</span>
<span class="t" style="left:241.65px;top:461.60px;font-size:9.5px;color:#fff;transform-origin:50% 0;transform:translateX(-50%) scaleX(0.9400);font-weight:bold">52</span>
<span class="t" style="left:299.05px;top:461.60px;font-size:9.5px;color:#fff;transform-origin:50% 0;transform:translateX(-50%) scaleX(0.9400);font-weight:bold">7</span>
<span class="t" style="left:356.40px;top:461.60px;font-size:9.5px;color:#fff;transform-origin:50% 0;transform:translateX(-50%) scaleX(0.9400);font-weight:bold">743</span>
<div style="position:absolute;left:5.00px;top:496.31px;width:94.00px;height:1.00px;background:#dedede"></div>
<div style="position:absolute;left:99.00px;top:496.31px;width:286.00px;height:1.00px;background:rgba(255,255,255,.36)"></div>
<span class="t" style="left:17.10px;top:481.73px;font-size:9.5px;color:#484848;transform-origin:0 0;transform:scaleX(0.9050)">Howze, Daryl</span>
<span class="t" style="left:127.35px;top:481.83px;font-size:9.5px;color:#fff;transform-origin:50% 0;transform:translateX(-50%) scaleX(0.9400);font-weight:bold">25</span>
<span class="t" style="left:184.35px;top:481.83px;font-size:9.5px;color:#fff;transform-origin:50% 0;transform:translateX(-50%) scaleX(0.9400);font-weight:bold">0</span>
<span class="t" style="left:241.65px;top:481.83px;font-size:9.5px;color:#fff4e0;transform-origin:50% 0;transform:translateX(-50%) scaleX(0.9400);font-weight:bold">953</span>
<span class="t" style="left:299.05px;top:481.83px;font-size:9.5px;color:#fff;transform-origin:50% 0;transform:translateX(-50%) scaleX(0.9400);font-weight:bold">56</span>
<span class="t" style="left:356.40px;top:481.83px;font-size:9.5px;color:#fff4e0;transform-origin:50% 0;transform:translateX(-50%) scaleX(0.9400);font-weight:bold">71</span>
<div style="position:absolute;left:5.00px;top:516.54px;width:94.00px;height:1.00px;background:#dedede"></div>
<div style="position:absolute;left:99.00px;top:516.54px;width:286.00px;height:1.00px;background:rgba(255,255,255,.36)"></div>
<span class="t" style="left:17.10px;top:501.97px;font-size:9.5px;color:#484848;transform-origin:0 0;transform:scaleX(0.9050)">Burdick, Troy</span>
<span class="t" style="left:127.35px;top:502.07px;font-size:9.5px;color:#fff4e0;transform-origin:50% 0;transform:translateX(-50%) scaleX(0.9400);font-weight:bold">24</span>
<span class="t" style="left:184.35px;top:502.07px;font-size:9.5px;color:#fff;transform-origin:50% 0;transform:translateX(-50%) scaleX(0.9400);font-weight:bold">0</span>
<span class="t" style="left:241.65px;top:502.07px;font-size:9.5px;color:#fff;transform-origin:50% 0;transform:translateX(-50%) scaleX(0.9400);font-weight:bold">1398</span>
<span class="t" style="left:299.05px;top:502.07px;font-size:9.5px;color:#fff;transform-origin:50% 0;transform:translateX(-50%) scaleX(0.9400);font-weight:bold">7</span>
<span class="t" style="left:356.40px;top:502.07px;font-size:9.5px;color:#fff4e0;transform-origin:50% 0;transform:translateX(-50%) scaleX(0.9400);font-weight:bold">64</span>
<div style="position:absolute;left:5.00px;top:536.78px;width:94.00px;height:1.00px;background:#dedede"></div>
<div style="position:absolute;left:99.00px;top:536.78px;width:286.00px;height:1.00px;background:rgba(255,255,255,.36)"></div>
<span class="t" style="left:17.10px;top:522.20px;font-size:9.5px;color:#484848;transform-origin:0 0;transform:scaleX(0.9050)">Thomas, Michael</span>
<span class="t" style="left:127.35px;top:522.30px;font-size:9.5px;color:#fff4e0;transform-origin:50% 0;transform:translateX(-50%) scaleX(0.9400);font-weight:bold">23</span>
<span class="t" style="left:184.35px;top:522.30px;font-size:9.5px;color:#fff;transform-origin:50% 0;transform:translateX(-50%) scaleX(0.9400);font-weight:bold">0</span>
<span class="t" style="left:241.65px;top:522.30px;font-size:9.5px;color:#fff;transform-origin:50% 0;transform:translateX(-50%) scaleX(0.9400);font-weight:bold">1559</span>
<span class="t" style="left:299.05px;top:522.30px;font-size:9.5px;color:#fff;transform-origin:50% 0;transform:translateX(-50%) scaleX(0.9400);font-weight:bold">0</span>
<span class="t" style="left:356.40px;top:522.30px;font-size:9.5px;color:#fff;transform-origin:50% 0;transform:translateX(-50%) scaleX(0.9400);font-weight:bold">27</span>
<div style="position:absolute;left:4.50px;top:151.90px;width:380.50px;height:1.30px;background:#000"></div>
<div style="position:absolute;left:4.50px;top:172.60px;width:380.50px;height:1.30px;background:#000"></div>
<svg style="position:absolute;left:4.500px;top:152.500px" width="9" height="21" viewBox="0 0 9 21"><path d="M0 0L9 10.500 0 21z" fill="#000"/></svg>
<span class="t" style="left:5.00px;top:545.58px;font-size:9px;color:#3f86c0;transform-origin:0 0;transform:scaleX(0.9459);font-style:italic">CSA data powered by</span>
<span class="t" style="left:142.00px;top:545.58px;font-size:9px;color:#3f86c0;transform-origin:0 0;transform:scaleX(0.9665);font-style:italic">Speeding data powered by</span>
<div style="position:absolute;left:90.00px;top:544.20px;width:48.00px;height:12.80px;background:linear-gradient(90deg,#8e0c14,#c8343c 50%,#9a1018);border-radius:1px"></div>
<div style="position:absolute;left:91.60px;top:545.60px;width:44.80px;height:10.00px;background:#fff;border-radius:3px;box-shadow:0 0 0 0.6px #f0b4b8"></div>
<span class="t" style="left:100.00px;top:546.26px;font-size:9.5px;color:#43141a;transform-origin:0 0;transform:scaleX(0.9079);font-weight:bold;font-style:italic">VIGILLO</span>
<svg style="position:absolute;left:93.5px;top:547.5px" width="7" height="7" viewBox="0 0 7 7"><circle cx="1.400" cy="3.600" r="1.000" fill="#5a1a30"/><circle cx="3.800" cy="1.900" r="0.900" fill="#7a1420"/><circle cx="3.800" cy="5.300" r="0.900" fill="#7a1420"/><circle cx="5.900" cy="3.600" r="0.800" fill="#7a1420"/></svg>
<div style="position:absolute;left:247.00px;top:544.20px;width:83.50px;height:12.80px;background:#1d66ae"></div>
<svg style="position:absolute;left:248.5px;top:545.2px" width="20" height="11" viewBox="0 0 20 11"><path d="M4.500 0H19.500V11H2.200C2.200 6 3 2.500 4.500 0z" fill="#e8f3fb"/><path d="M5.500 11C5 6.500 6.500 2.500 9.500 0.300H12.500C9 3 7.800 6.500 8.500 11z" fill="#1d66ae"/><path d="M10.500 6.500L17.500 2.200" stroke="#1d66ae" stroke-width="0.900"/><path d="M0.300 11C0.300 6 1.300 2.500 2.800 0H3.800C2.300 2.500 1.400 6 1.400 11z" fill="#e8f3fb"/></svg>
<span class="t" style="left:271.00px;top:543.92px;font-size:14.5px;color:#eef6fc;transform-origin:0 0;transform:scaleX(0.5668);font-weight:bold">SPEEDGAUGE</span>
<div style="position:absolute;left:403.50px;top:39.00px;width:492.30px;height:51.80px;background:#d5264f;border-radius:3px"></div>
<span class="t" style="left:412.80px;top:48.06px;font-size:33px;color:#fff;transform-origin:0 0;transform:scaleX(0.9857)">Burks, Jermaine</span>
<span class="t" style="left:813.80px;top:57.34px;font-size:18.5px;color:#fff;transform-origin:0 0;transform:scaleX(0.9846);-webkit-text-stroke:0.3px #fff">Total 52</span>
<div style="position:absolute;left:403.00px;top:96.00px;width:244.00px;height:141.00px;border:1px solid #e5e5e5;border-radius:3px;background:#fff;box-sizing:border-box"></div>
<span class="t" style="left:525.55px;top:108.74px;font-size:12px;color:#333;transform-origin:50% 0;transform:translateX(-50%) scaleX(0.8518)">TOTAL</span>
<svg style="position:absolute;left:0;top:0;pointer-events:none" width="1200" height="561" viewBox="0 0 1200 561"><line x1="425.30" y1="218.80" x2="635.86" y2="218.80" stroke="#dedede" stroke-width="1"/><line x1="425.30" y1="204.20" x2="635.86" y2="204.20" stroke="#dedede" stroke-width="1"/><line x1="425.30" y1="189.60" x2="635.86" y2="189.60" stroke="#dedede" stroke-width="1"/><line x1="425.30" y1="175.00" x2="635.86" y2="175.00" stroke="#dedede" stroke-width="1"/><line x1="425.30" y1="160.40" x2="635.86" y2="160.40" stroke="#dedede" stroke-width="1"/><line x1="425.30" y1="145.80" x2="635.86" y2="145.80" stroke="#dedede" stroke-width="1"/><line x1="425.30" y1="131.20" x2="635.86" y2="131.20" stroke="#dedede" stroke-width="1"/><line x1="427.30" y1="126.80" x2="427.30" y2="218.80" stroke="#c4c4c4" stroke-width="1"/><line x1="427.30" y1="218.80" x2="635.86" y2="218.80" stroke="#c4c4c4" stroke-width="1"/><line x1="427.30" y1="218.80" x2="427.30" y2="221.80" stroke="#cccccc" stroke-width="1"/><line x1="484.18" y1="218.80" x2="484.18" y2="221.80" stroke="#cccccc" stroke-width="1"/><line x1="541.06" y1="218.80" x2="541.06" y2="221.80" stroke="#cccccc" stroke-width="1"/><line x1="597.94" y1="218.80" x2="597.94" y2="221.80" stroke="#cccccc" stroke-width="1"/><line x1="635.86" y1="218.80" x2="635.86" y2="221.80" stroke="#cccccc" stroke-width="1"/><polyline points="427.30,201.28 446.26,202.74 465.22,202.74 484.18,202.74 503.14,202.74 522.10,202.74 541.06,202.74 560.02,202.74 578.98,202.74 597.94,201.28 616.90,201.28 635.86,202.74" fill="none" stroke="#1583cf" stroke-width="2" stroke-linejoin="round" stroke-linecap="butt"/><polyline points="427.30,193.98 446.26,192.52 465.22,191.06 484.18,189.60 503.14,189.60 522.10,189.60 541.06,189.60 560.02,188.14 578.98,186.68 597.94,188.14 616.90,142.88 635.86,142.88" fill="none" stroke="#cf2350" stroke-width="2" stroke-linejoin="round" stroke-linecap="butt"/></svg>
<span class="t" style="left:426.10px;top:214.93px;font-size:8px;color:#555;transform-origin:100% 0;transform:translateX(-100%) scaleX(0.8800)">0</span>
<span class="t" style="left:426.10px;top:200.33px;font-size:8px;color:#555;transform-origin:100% 0;transform:translateX(-100%) scaleX(0.8800)">10</span>
<span class="t" style="left:426.10px;top:185.73px;font-size:8px;color:#555;transform-origin:100% 0;transform:translateX(-100%) scaleX(0.8800)">20</span>
<span class="t" style="left:426.10px;top:171.13px;font-size:8px;color:#555;transform-origin:100% 0;transform:translateX(-100%) scaleX(0.8800)">30</span>
<span class="t" style="left:426.10px;top:156.53px;font-size:8px;color:#555;transform-origin:100% 0;transform:translateX(-100%) scaleX(0.8800)">40</span>
<span class="t" style="left:426.10px;top:141.93px;font-size:8px;color:#555;transform-origin:100% 0;transform:translateX(-100%) scaleX(0.8800)">50</span>
<span class="t" style="left:426.10px;top:127.33px;font-size:8px;color:#555;transform-origin:100% 0;transform:translateX(-100%) scaleX(0.8800)">60</span>
<span class="t" style="left:427.30px;top:223.10px;font-size:8.5px;color:#555;transform-origin:50% 0;transform:translateX(-50%) scaleX(0.8400)">10/8</span>
<span class="t" style="left:484.18px;top:223.10px;font-size:8.5px;color:#555;transform-origin:50% 0;transform:translateX(-50%) scaleX(0.8400)">10/29</span>
<span class="t" style="left:541.06px;top:223.10px;font-size:8.5px;color:#555;transform-origin:50% 0;transform:translateX(-50%) scaleX(0.8400)">11/19</span>
<span class="t" style="left:597.94px;top:223.10px;font-size:8.5px;color:#555;transform-origin:50% 0;transform:translateX(-50%) scaleX(0.8400)">12/10</span>
<div style="position:absolute;left:403.00px;top:242.00px;width:244.00px;height:141.00px;border:1px solid #e5e5e5;border-radius:3px;background:#fff;box-sizing:border-box"></div>
<span class="t" style="left:525.55px;top:254.74px;font-size:12px;color:#333;transform-origin:50% 0;transform:translateX(-50%) scaleX(0.8511)">CSA</span>
<svg style="position:absolute;left:0;top:0;pointer-events:none" width="1200" height="561" viewBox="0 0 1200 561"><line x1="425.30" y1="364.80" x2="635.86" y2="364.80" stroke="#dedede" stroke-width="1"/><line x1="425.30" y1="352.06" x2="635.86" y2="352.06" stroke="#dedede" stroke-width="1"/><line x1="425.30" y1="339.31" x2="635.86" y2="339.31" stroke="#dedede" stroke-width="1"/><line x1="425.30" y1="326.56" x2="635.86" y2="326.56" stroke="#dedede" stroke-width="1"/><line x1="425.30" y1="313.82" x2="635.86" y2="313.82" stroke="#dedede" stroke-width="1"/><line x1="425.30" y1="301.07" x2="635.86" y2="301.07" stroke="#dedede" stroke-width="1"/><line x1="425.30" y1="288.33" x2="635.86" y2="288.33" stroke="#dedede" stroke-width="1"/><line x1="425.30" y1="275.59" x2="635.86" y2="275.59" stroke="#dedede" stroke-width="1"/><line x1="427.30" y1="272.80" x2="427.30" y2="364.80" stroke="#c4c4c4" stroke-width="1"/><line x1="427.30" y1="364.80" x2="635.86" y2="364.80" stroke="#c4c4c4" stroke-width="1"/><line x1="427.30" y1="364.80" x2="427.30" y2="367.80" stroke="#cccccc" stroke-width="1"/><line x1="484.18" y1="364.80" x2="484.18" y2="367.80" stroke="#cccccc" stroke-width="1"/><line x1="541.06" y1="364.80" x2="541.06" y2="367.80" stroke="#cccccc" stroke-width="1"/><line x1="597.94" y1="364.80" x2="597.94" y2="367.80" stroke="#cccccc" stroke-width="1"/><line x1="635.86" y1="364.80" x2="635.86" y2="367.80" stroke="#cccccc" stroke-width="1"/><polyline points="427.30,364.80 446.26,364.80 465.22,364.80 484.18,364.80 503.14,364.80 522.10,364.80 541.06,364.80 560.02,364.80 578.98,364.80 597.94,364.80 616.90,364.80 635.86,364.80" fill="none" stroke="#1583cf" stroke-width="2" stroke-linejoin="round" stroke-linecap="butt"/><polyline points="427.30,364.80 446.26,364.80 465.22,364.80 484.18,364.80 503.14,364.80 522.10,364.80 541.06,364.80 560.02,364.80 578.98,364.80 597.94,364.80 616.90,288.33 635.86,288.33" fill="none" stroke="#cf2350" stroke-width="2" stroke-linejoin="round" stroke-linecap="butt"/></svg>
<span class="t" style="left:426.10px;top:360.93px;font-size:8px;color:#555;transform-origin:100% 0;transform:translateX(-100%) scaleX(0.8800)">0</span>
<span class="t" style="left:426.10px;top:348.18px;font-size:8px;color:#555;transform-origin:100% 0;transform:translateX(-100%) scaleX(0.8800)">5</span>
<span class="t" style="left:426.10px;top:335.44px;font-size:8px;color:#555;transform-origin:100% 0;transform:translateX(-100%) scaleX(0.8800)">10</span>
<span class="t" style="left:426.10px;top:322.69px;font-size:8px;color:#555;transform-origin:100% 0;transform:translateX(-100%) scaleX(0.8800)">15</span>
<span class="t" style="left:426.10px;top:309.95px;font-size:8px;color:#555;transform-origin:100% 0;transform:translateX(-100%) scaleX(0.8800)">20</span>
<span class="t" style="left:426.10px;top:297.20px;font-size:8px;color:#555;transform-origin:100% 0;transform:translateX(-100%) scaleX(0.8800)">25</span>
<span class="t" style="left:426.10px;top:284.46px;font-size:8px;color:#555;transform-origin:100% 0;transform:translateX(-100%) scaleX(0.8800)">30</span>
<span class="t" style="left:426.10px;top:271.71px;font-size:8px;color:#555;transform-origin:100% 0;transform:translateX(-100%) scaleX(0.8800)">35</span>
<span class="t" style="left:427.30px;top:369.10px;font-size:8.5px;color:#555;transform-origin:50% 0;transform:translateX(-50%) scaleX(0.8400)">10/8</span>
<span class="t" style="left:484.18px;top:369.10px;font-size:8.5px;color:#555;transform-origin:50% 0;transform:translateX(-50%) scaleX(0.8400)">10/29</span>
<span class="t" style="left:541.06px;top:369.10px;font-size:8.5px;color:#555;transform-origin:50% 0;transform:translateX(-50%) scaleX(0.8400)">11/19</span>
<span class="t" style="left:597.94px;top:369.10px;font-size:8.5px;color:#555;transform-origin:50% 0;transform:translateX(-50%) scaleX(0.8400)">12/10</span>
<div style="position:absolute;left:653.00px;top:242.00px;width:243.00px;height:141.00px;border:1px solid #e5e5e5;border-radius:3px;background:#fff;box-sizing:border-box"></div>
<span class="t" style="left:774.85px;top:254.74px;font-size:12px;color:#333;transform-origin:50% 0;transform:translateX(-50%) scaleX(0.8385)">SPEEDING</span>
<svg style="position:absolute;left:0;top:0;pointer-events:none" width="1200" height="561" viewBox="0 0 1200 561"><line x1="674.60" y1="364.80" x2="885.16" y2="364.80" stroke="#dedede" stroke-width="1"/><line x1="674.60" y1="339.40" x2="885.16" y2="339.40" stroke="#dedede" stroke-width="1"/><line x1="674.60" y1="314.00" x2="885.16" y2="314.00" stroke="#dedede" stroke-width="1"/><line x1="674.60" y1="288.60" x2="885.16" y2="288.60" stroke="#dedede" stroke-width="1"/><line x1="676.60" y1="272.80" x2="676.60" y2="364.80" stroke="#c4c4c4" stroke-width="1"/><line x1="676.60" y1="364.80" x2="885.16" y2="364.80" stroke="#c4c4c4" stroke-width="1"/><line x1="676.60" y1="364.80" x2="676.60" y2="367.80" stroke="#cccccc" stroke-width="1"/><line x1="733.48" y1="364.80" x2="733.48" y2="367.80" stroke="#cccccc" stroke-width="1"/><line x1="790.36" y1="364.80" x2="790.36" y2="367.80" stroke="#cccccc" stroke-width="1"/><line x1="847.24" y1="364.80" x2="847.24" y2="367.80" stroke="#cccccc" stroke-width="1"/><line x1="885.16" y1="364.80" x2="885.16" y2="367.80" stroke="#cccccc" stroke-width="1"/><polyline points="676.60,336.10 695.56,335.95 714.52,335.84 733.48,335.84 752.44,335.74 771.40,335.44 790.36,335.44 809.32,335.08 828.28,334.73 847.24,334.32 866.20,333.71 885.16,334.12" fill="none" stroke="#1583cf" stroke-width="2" stroke-linejoin="round" stroke-linecap="butt"/><polyline points="676.60,305.87 695.56,303.33 714.52,299.78 733.48,297.74 752.44,297.74 771.40,296.73 790.36,298.25 809.32,294.19 828.28,291.39 847.24,293.17 866.20,289.87 885.16,289.67" fill="none" stroke="#cf2350" stroke-width="2" stroke-linejoin="round" stroke-linecap="butt"/></svg>
<span class="t" style="left:675.40px;top:360.93px;font-size:8px;color:#555;transform-origin:100% 0;transform:translateX(-100%) scaleX(0.8800)">0</span>
<span class="t" style="left:675.40px;top:335.53px;font-size:8px;color:#555;transform-origin:100% 0;transform:translateX(-100%) scaleX(0.8800)">500</span>
<span class="t" style="left:675.40px;top:310.13px;font-size:8px;color:#555;transform-origin:100% 0;transform:translateX(-100%) scaleX(0.8800)">1,000</span>
<span class="t" style="left:675.40px;top:284.73px;font-size:8px;color:#555;transform-origin:100% 0;transform:translateX(-100%) scaleX(0.8800)">1,500</span>
<span class="t" style="left:676.60px;top:369.10px;font-size:8.5px;color:#555;transform-origin:50% 0;transform:translateX(-50%) scaleX(0.8400)">10/8</span>
<span class="t" style="left:733.48px;top:369.10px;font-size:8.5px;color:#555;transform-origin:50% 0;transform:translateX(-50%) scaleX(0.8400)">10/29</span>
<span class="t" style="left:790.36px;top:369.10px;font-size:8.5px;color:#555;transform-origin:50% 0;transform:translateX(-50%) scaleX(0.8400)">11/19</span>
<span class="t" style="left:847.24px;top:369.10px;font-size:8.5px;color:#555;transform-origin:50% 0;transform:translateX(-50%) scaleX(0.8400)">12/10</span>
<div style="position:absolute;left:403.00px;top:388.00px;width:244.00px;height:141.00px;border:1px solid #e5e5e5;border-radius:3px;background:#fff;box-sizing:border-box"></div>
<span class="t" style="left:525.55px;top:400.74px;font-size:12px;color:#333;transform-origin:50% 0;transform:translateX(-50%) scaleX(0.8560)">HOS VIOLATIONS</span>
<svg style="position:absolute;left:0;top:0;pointer-events:none" width="1200" height="561" viewBox="0 0 1200 561"><line x1="425.30" y1="510.80" x2="635.86" y2="510.80" stroke="#dedede" stroke-width="1"/><line x1="425.30" y1="493.90" x2="635.86" y2="493.90" stroke="#dedede" stroke-width="1"/><line x1="425.30" y1="477.00" x2="635.86" y2="477.00" stroke="#dedede" stroke-width="1"/><line x1="425.30" y1="460.10" x2="635.86" y2="460.10" stroke="#dedede" stroke-width="1"/><line x1="425.30" y1="443.20" x2="635.86" y2="443.20" stroke="#dedede" stroke-width="1"/><line x1="425.30" y1="426.30" x2="635.86" y2="426.30" stroke="#dedede" stroke-width="1"/><line x1="427.30" y1="418.80" x2="427.30" y2="510.80" stroke="#c4c4c4" stroke-width="1"/><line x1="427.30" y1="510.80" x2="635.86" y2="510.80" stroke="#c4c4c4" stroke-width="1"/><line x1="427.30" y1="510.80" x2="427.30" y2="513.80" stroke="#cccccc" stroke-width="1"/><line x1="484.18" y1="510.80" x2="484.18" y2="513.80" stroke="#cccccc" stroke-width="1"/><line x1="541.06" y1="510.80" x2="541.06" y2="513.80" stroke="#cccccc" stroke-width="1"/><line x1="597.94" y1="510.80" x2="597.94" y2="513.80" stroke="#cccccc" stroke-width="1"/><line x1="635.86" y1="510.80" x2="635.86" y2="513.80" stroke="#cccccc" stroke-width="1"/><polyline points="427.30,434.75 446.26,434.75 465.22,434.75 484.18,434.75 503.14,443.20 522.10,443.20 541.06,451.65 560.02,443.20 578.98,451.65 597.94,451.65 616.90,451.65 635.86,451.65" fill="none" stroke="#1583cf" stroke-width="2" stroke-linejoin="round" stroke-linecap="butt"/><polyline points="427.30,510.80 446.26,510.80 465.22,510.80 484.18,510.80 503.14,510.80 522.10,510.80 541.06,510.80 560.02,510.80 578.98,510.80 597.94,510.80 616.90,510.80 635.86,510.80" fill="none" stroke="#cf2350" stroke-width="2" stroke-linejoin="round" stroke-linecap="butt"/></svg>
<span class="t" style="left:426.10px;top:506.93px;font-size:8px;color:#555;transform-origin:100% 0;transform:translateX(-100%) scaleX(0.8800)">0</span>
<span class="t" style="left:426.10px;top:490.03px;font-size:8px;color:#555;transform-origin:100% 0;transform:translateX(-100%) scaleX(0.8800)">2</span>
<span class="t" style="left:426.10px;top:473.13px;font-size:8px;color:#555;transform-origin:100% 0;transform:translateX(-100%) scaleX(0.8800)">4</span>
<span class="t" style="left:426.10px;top:456.23px;font-size:8px;color:#555;transform-origin:100% 0;transform:translateX(-100%) scaleX(0.8800)">6</span>
<span class="t" style="left:426.10px;top:439.33px;font-size:8px;color:#555;transform-origin:100% 0;transform:translateX(-100%) scaleX(0.8800)">8</span>
<span class="t" style="left:426.10px;top:422.43px;font-size:8px;color:#555;transform-origin:100% 0;transform:translateX(-100%) scaleX(0.8800)">10</span>
<span class="t" style="left:427.30px;top:515.10px;font-size:8.5px;color:#555;transform-origin:50% 0;transform:translateX(-50%) scaleX(0.8400)">10/8</span>
<span class="t" style="left:484.18px;top:515.10px;font-size:8.5px;color:#555;transform-origin:50% 0;transform:translateX(-50%) scaleX(0.8400)">10/29</span>
<span class="t" style="left:541.06px;top:515.10px;font-size:8.5px;color:#555;transform-origin:50% 0;transform:translateX(-50%) scaleX(0.8400)">11/19</span>
<span class="t" style="left:597.94px;top:515.10px;font-size:8.5px;color:#555;transform-origin:50% 0;transform:translateX(-50%) scaleX(0.8400)">12/10</span>
<div style="position:absolute;left:653.00px;top:388.00px;width:243.00px;height:141.00px;border:1px solid #e5e5e5;border-radius:3px;background:#fff;box-sizing:border-box"></div>
<span class="t" style="left:774.85px;top:400.74px;font-size:12px;color:#333;transform-origin:50% 0;transform:translateX(-50%) scaleX(0.8333)">DRIVER BEHAVIOR</span>
<svg style="position:absolute;left:0;top:0;pointer-events:none" width="1200" height="561" viewBox="0 0 1200 561"><line x1="674.60" y1="510.80" x2="885.16" y2="510.80" stroke="#dedede" stroke-width="1"/><line x1="674.60" y1="497.23" x2="885.16" y2="497.23" stroke="#dedede" stroke-width="1"/><line x1="674.60" y1="483.66" x2="885.16" y2="483.66" stroke="#dedede" stroke-width="1"/><line x1="674.60" y1="470.09" x2="885.16" y2="470.09" stroke="#dedede" stroke-width="1"/><line x1="674.60" y1="456.52" x2="885.16" y2="456.52" stroke="#dedede" stroke-width="1"/><line x1="674.60" y1="442.95" x2="885.16" y2="442.95" stroke="#dedede" stroke-width="1"/><line x1="674.60" y1="429.38" x2="885.16" y2="429.38" stroke="#dedede" stroke-width="1"/><line x1="676.60" y1="418.80" x2="676.60" y2="510.80" stroke="#c4c4c4" stroke-width="1"/><line x1="676.60" y1="510.80" x2="885.16" y2="510.80" stroke="#c4c4c4" stroke-width="1"/><line x1="676.60" y1="510.80" x2="676.60" y2="513.80" stroke="#cccccc" stroke-width="1"/><line x1="733.48" y1="510.80" x2="733.48" y2="513.80" stroke="#cccccc" stroke-width="1"/><line x1="790.36" y1="510.80" x2="790.36" y2="513.80" stroke="#cccccc" stroke-width="1"/><line x1="847.24" y1="510.80" x2="847.24" y2="513.80" stroke="#cccccc" stroke-width="1"/><line x1="885.16" y1="510.80" x2="885.16" y2="513.80" stroke="#cccccc" stroke-width="1"/><polyline points="676.60,447.02 695.56,447.02 714.52,447.02 733.48,445.66 752.44,444.31 771.40,444.31 790.36,445.66 809.32,444.31 828.28,444.31 847.24,436.17 866.20,434.81 885.16,437.52" fill="none" stroke="#1583cf" stroke-width="2" stroke-linejoin="round" stroke-linecap="butt"/><polyline points="676.60,510.80 695.56,510.80 714.52,510.80 733.48,510.80 752.44,510.80 771.40,510.80 790.36,510.80 809.32,510.80 828.28,510.80 847.24,510.80 866.20,510.80 885.16,510.80" fill="none" stroke="#cf2350" stroke-width="2" stroke-linejoin="round" stroke-linecap="butt"/></svg>
<span class="t" style="left:675.40px;top:506.93px;font-size:8px;color:#555;transform-origin:100% 0;transform:translateX(-100%) scaleX(0.8800)">0</span>
<span class="t" style="left:675.40px;top:493.36px;font-size:8px;color:#555;transform-origin:100% 0;transform:translateX(-100%) scaleX(0.8800)">10</span>
<span class="t" style="left:675.40px;top:479.79px;font-size:8px;color:#555;transform-origin:100% 0;transform:translateX(-100%) scaleX(0.8800)">20</span>
<span class="t" style="left:675.40px;top:466.22px;font-size:8px;color:#555;transform-origin:100% 0;transform:translateX(-100%) scaleX(0.8800)">30</span>
<span class="t" style="left:675.40px;top:452.65px;font-size:8px;color:#555;transform-origin:100% 0;transform:translateX(-100%) scaleX(0.8800)">40</span>
<span class="t" style="left:675.40px;top:439.08px;font-size:8px;color:#555;transform-origin:100% 0;transform:translateX(-100%) scaleX(0.8800)">50</span>
<span class="t" style="left:675.40px;top:425.51px;font-size:8px;color:#555;transform-origin:100% 0;transform:translateX(-100%) scaleX(0.8800)">60</span>
<span class="t" style="left:676.60px;top:515.10px;font-size:8.5px;color:#555;transform-origin:50% 0;transform:translateX(-50%) scaleX(0.8400)">10/8</span>
<span class="t" style="left:733.48px;top:515.10px;font-size:8.5px;color:#555;transform-origin:50% 0;transform:translateX(-50%) scaleX(0.8400)">10/29</span>
<span class="t" style="left:790.36px;top:515.10px;font-size:8.5px;color:#555;transform-origin:50% 0;transform:translateX(-50%) scaleX(0.8400)">11/19</span>
<span class="t" style="left:847.24px;top:515.10px;font-size:8.5px;color:#555;transform-origin:50% 0;transform:translateX(-50%) scaleX(0.8400)">12/10</span>
<div style="position:absolute;left:412.00px;top:545.80px;width:12.00px;height:2.00px;background:#1583cf"></div>
<span class="t" style="left:428.00px;top:543.45px;font-size:7.5px;color:#444;transform-origin:0 0;transform:scaleX(0.8049)">FLEET AVG.</span>
<div style="position:absolute;left:499.80px;top:545.80px;width:12.00px;height:2.00px;background:#cf2350"></div>
<span class="t" style="left:516.00px;top:543.45px;font-size:7.5px;color:#444;transform-origin:0 0;transform:scaleX(0.8096)">BURKS, JERMAINE</span>
<div style="position:absolute;left:653.00px;top:96.00px;width:243.00px;height:141.00px;border:1px solid #e5e5e5;border-radius:3px;background:#fff;box-sizing:border-box"></div>
<span class="t" style="left:775.00px;top:108.42px;font-size:12.5px;color:#444;transform-origin:50% 0;transform:translateX(-50%) scaleX(0.8203)">13 VIDEOS</span>
<div style="position:absolute;left:658.70px;top:129.30px;width:112.40px;height:35.70px;background:#f8f8f8;border-radius:2px"></div>
<svg style="position:absolute;left:684.50px;top:133.00px;color:#1083d3" width="11.00" height="18.50" viewBox="0 0 11 18.500" fill="currentColor" preserveAspectRatio="none"><path d="M5.500 0C7.600 0 9 1.200 9 3L11 3C11 4.800 10.200 5.800 9 6.300L9 7.500L11 7.500C11 9.300 10.200 10.300 9 10.800L9 12L11 12C11 13.800 10.200 14.800 9 15.300C8.600 16.800 7 17.800 5.500 18.500C4 17.800 2.400 16.800 2 15.300C.8 14.800 0 13.800 0 12L2 12L2 10.800C.8 10.300 0 9.300 0 7.500L2 7.500L2 6.300C.8 5.800 0 4.800 0 3L2 3C2 1.200 3.400 0 5.500 0Z"/><circle cx="5.500" cy="3.7" r="1.900" fill="#d4eefc"/><circle cx="5.500" cy="8.3" r="1.900" fill="#d4eefc"/><circle cx="5.500" cy="12.9" r="1.900" fill="#d4eefc"/><circle cx="5.500" cy="12.9" r="0.900" fill="#2e93da"/></svg>
<span class="t" style="left:690.00px;top:156.60px;font-size:6.5px;color:#3583c2;transform-origin:50% 0;transform:translateX(-50%) scaleX(0.8403);font-weight:bold">START</span>
<span class="t" style="left:749.40px;top:134.63px;font-size:23px;color:#222;transform-origin:50% 0;transform:translateX(-50%) scaleX(0.9300)">10</span>
<div style="position:absolute;left:778.90px;top:129.30px;width:112.40px;height:35.70px;background:#f8f8f8;border-radius:2px"></div>
<svg style="position:absolute;left:804.70px;top:133.00px;color:#1083d3" width="11.00" height="18.50" viewBox="0 0 11 18.500" fill="currentColor" preserveAspectRatio="none"><path d="M5.500 0C7.600 0 9 1.200 9 3L11 3C11 4.800 10.200 5.800 9 6.300L9 7.500L11 7.500C11 9.300 10.200 10.300 9 10.800L9 12L11 12C11 13.800 10.200 14.800 9 15.300C8.600 16.800 7 17.800 5.500 18.500C4 17.800 2.400 16.800 2 15.300C.8 14.800 0 13.800 0 12L2 12L2 10.800C.8 10.300 0 9.300 0 7.500L2 7.500L2 6.300C.8 5.800 0 4.800 0 3L2 3C2 1.200 3.400 0 5.500 0Z"/><circle cx="5.500" cy="3.7" r="1.900" fill="#d4eefc"/><circle cx="5.500" cy="3.7" r="0.900" fill="#2e93da"/><circle cx="5.500" cy="8.3" r="1.900" fill="#d4eefc"/><circle cx="5.500" cy="12.9" r="1.900" fill="#d4eefc"/></svg>
<span class="t" style="left:810.20px;top:156.60px;font-size:6.5px;color:#3583c2;transform-origin:50% 0;transform:translateX(-50%) scaleX(0.8532);font-weight:bold">STOP</span>
<span class="t" style="left:869.60px;top:134.63px;font-size:23px;color:#222;transform-origin:50% 0;transform:translateX(-50%) scaleX(0.9300)">3</span>
<div style="position:absolute;left:658.70px;top:170.60px;width:112.40px;height:35.70px;background:#f8f8f8;border-radius:2px"></div>
<svg style="position:absolute;left:681.30px;top:175.40px;color:#1083d3" width="17.40" height="16.00" viewBox="0 0 576 512" fill="currentColor" preserveAspectRatio="none"><path d="M569.517 440.013C587.975 472.007 564.806 512 527.940 512H48.054c-36.937 0-59.999-40.055-41.577-71.987L246.423 23.985c18.467-32.009 64.720-31.951 83.154 0l239.940 416.028zM288 354c-25.405 0-46 20.595-46 46s20.595 46 46 46 46-20.595 46-46-20.595-46-46-46zm-43.673-165.346l7.418 136c.347 6.364 5.609 11.346 11.982 11.346h48.546c6.373 0 11.635-4.982 11.982-11.346l7.418-136c.375-6.874-5.098-12.654-11.982-12.654h-63.383c-6.884 0-12.356 5.780-11.981 12.654z"/></svg>
<span class="t" style="left:690.00px;top:197.90px;font-size:6.5px;color:#3583c2;transform-origin:50% 0;transform:translateX(-50%) scaleX(0.8648);font-weight:bold">SAFETY SYSTEMS</span>
<span class="t" style="left:749.40px;top:175.93px;font-size:23px;color:#222;transform-origin:50% 0;transform:translateX(-50%) scaleX(0.9300)">0</span>
<div style="position:absolute;left:778.90px;top:170.60px;width:112.40px;height:35.70px;background:#f8f8f8;border-radius:2px"></div>
<svg style="position:absolute;left:802.70px;top:175.20px;color:#1083d3" width="16.80" height="16.80" viewBox="8 8 496 496" fill="currentColor" preserveAspectRatio="none"><path d="M504 256c0 136.967-111.033 248-248 248S8 392.967 8 256 119.033 8 256 8s248 111.033 248 248zM227.314 387.314l184-184c6.248-6.248 6.248-16.379 0-22.627l-22.627-22.627c-6.248-6.249-16.379-6.249-22.628 0L216 308.118l-70.059-70.059c-6.248-6.248-16.379-6.248-22.628 0l-22.627 22.627c-6.248 6.248-6.248 16.379 0 22.627l104 104c6.249 6.249 16.379 6.249 22.628.001z"/></svg>
<span class="t" style="left:810.20px;top:197.90px;font-size:6.5px;color:#3583c2;transform-origin:50% 0;transform:translateX(-50%) scaleX(0.8385);font-weight:bold">REVIEW</span>
<span class="t" style="left:869.60px;top:175.93px;font-size:23px;color:#222;transform-origin:50% 0;transform:translateX(-50%) scaleX(0.9300)">0</span>
<div style="position:absolute;left:744.60px;top:211.40px;width:58.60px;height:18.20px;border:1px solid #e3e3e3;border-radius:4.5px;background:#fff"></div>
<span class="t" style="left:774.80px;top:216.18px;font-size:9px;color:#4a80ae;transform-origin:50% 0;transform:translateX(-50%) scaleX(0.7780)">VIEW VIDEOS</span>
<div style="position:absolute;left:902.00px;top:39.00px;width:294.00px;height:127.00px;border:1px solid #e5e5e5;border-radius:3px;background:#fff;box-sizing:border-box"></div>
<span class="t" style="left:910.00px;top:48.96px;font-size:11.5px;color:#111;transform-origin:0 0;transform:scaleX(0.8855);font-weight:bold">CSA</span>
<div style="position:absolute;left:912.00px;top:69.40px;width:31.50px;height:23.20px;background:#d5264f;border-radius:3px"></div>
<span class="t" style="left:927.75px;top:73.72px;font-size:14.5px;color:#fff;transform-origin:50% 0;transform:translateX(-50%) scaleX(0.9300);font-weight:bold">30</span>
<span class="t" style="left:998.40px;top:89.57px;font-size:7px;color:#3583c2;transform-origin:50% 0;transform:translateX(-50%) scaleX(0.8096);font-weight:bold">UNSAFE</span>
<span class="t" style="left:1027.30px;top:89.57px;font-size:7px;color:#3583c2;transform-origin:50% 0;transform:translateX(-50%) scaleX(0.8276);font-weight:bold">CRASH</span>
<span class="t" style="left:1056.10px;top:89.57px;font-size:7px;color:#3583c2;transform-origin:50% 0;transform:translateX(-50%) scaleX(0.7779);font-weight:bold">HOS</span>
<span class="t" style="left:1085.40px;top:89.57px;font-size:7px;color:#3583c2;transform-origin:50% 0;transform:translateX(-50%) scaleX(0.7977);font-weight:bold">VEHICLE</span>
<span class="t" style="left:1115.40px;top:89.57px;font-size:7px;color:#3583c2;transform-origin:50% 0;transform:translateX(-50%) scaleX(0.7888);font-weight:bold">ALCOHOL</span>
<span class="t" style="left:1146.20px;top:89.57px;font-size:7px;color:#3583c2;transform-origin:50% 0;transform:translateX(-50%) scaleX(0.8681);font-weight:bold">HAZMAT</span>
<span class="t" style="left:1175.70px;top:89.57px;font-size:7px;color:#3583c2;transform-origin:50% 0;transform:translateX(-50%) scaleX(0.8221);font-weight:bold">FITNESS</span>
<svg style="position:absolute;left:995.60px;top:67.80px;color:#1083d3" width="4.90" height="16.00" viewBox="0 0 5 16" fill="currentColor" preserveAspectRatio="none"><path d="M0.150 0.600Q0.150 0 0.750 0H4.250Q4.850 0 4.850 0.600L4.300 11.100Q4.250 11.700 3.700 11.700H1.300Q0.750 11.700 0.700 11.100z"/><rect x="0.650" y="12.900" width="3.700" height="3.100" rx="0.800"/></svg>
<svg style="position:absolute;left:1016.50px;top:67.50px;color:#1083d3" width="21.50" height="16.00" viewBox="0 0 21.500 16" fill="currentColor" preserveAspectRatio="none"><g transform="translate(0 2.100) scale(0.0283 0.0310)"><path d="M499.990 176h-59.870l-16.640-41.600C406.380 91.630 365.570 64 319.500 64h-127c-46.060 0-86.880 27.630-103.990 70.400L71.870 176H12.010C4.200 176-1.530 183.340.370 190.910l6 24C7.700 220.250 12.500 224 18.010 224h20.070C24.650 235.730 16 252.780 16 272v48c0 16.120 6.160 30.670 16 41.930V416c0 17.670 14.330 32 32 32h32c17.670 0 32-14.330 32-32v-32h256v32c0 17.670 14.330 32 32 32h32c17.670 0 32-14.330 32-32v-54.070c9.840-11.250 16-25.800 16-41.930v-48c0-19.220-8.650-36.270-22.070-48H494c5.510 0 10.310-3.750 11.640-9.090l6-24c1.890-7.570-3.840-14.910-11.650-14.910zm-352.060-17.830c7.290-18.220 24.940-30.170 44.570-30.170h127c19.630 0 37.280 11.950 44.570 30.170L384 208H128l19.930-49.830zM96 319.800c-19.200 0-32-12.760-32-31.900S76.800 256 96 256s48 28.710 48 47.850-28.800 15.950-48 15.950zm320 0c-19.200 0-48 3.190-48-15.950S396.800 256 416 256s32 12.760 32 31.900-12.800 31.900-32 31.900z"/></g><polyline points="11.800,2.900 14.300,0.700 15.200,3.600 18.800,2.500 17.800,6.000 21.000,7.400 18.500,9.700 20.500,12.800 17.300,12.900 17.000,15.600" fill="none" stroke="currentColor" stroke-width="1.500" stroke-linejoin="miter"/></svg>
<svg style="position:absolute;left:1048.40px;top:67.40px;color:#1083d3" width="16.20" height="16.20" viewBox="0 0 16.400 16.400" fill="currentColor" preserveAspectRatio="none"><circle cx="8.200" cy="8.200" r="7.300" fill="none" stroke="currentColor" stroke-width="1.800"/><path d="M7.100 3.900h1.900v4.100h3.900v1.900H7.100z"/></svg>
<svg style="position:absolute;left:1077.30px;top:67.30px;color:#1083d3" width="15.60" height="16.40" viewBox="-14 -14 540 540" fill="currentColor" preserveAspectRatio="none"><path stroke="currentColor" stroke-width="34" stroke-linejoin="round" d="M507.730 109.100c-2.240-9.030-13.540-12.090-20.120-5.510l-74.360 74.360-67.880-11.310-11.310-67.880 74.360-74.360c6.620-6.620 3.430-17.900-5.660-20.160-47.380-11.740-99.550.910-136.580 37.930-39.640 39.640-50.550 97.100-34.050 147.200L18.740 402.760c-24.990 24.990-24.990 65.510 0 90.500 24.990 24.990 65.510 24.990 90.500 0l213.210-213.210c50.120 16.710 107.470 5.680 147.370-34.220 37.070-37.070 49.700-89.320 37.910-136.730zM64 472c-13.250 0-24-10.750-24-24 0-13.260 10.750-24 24-24s24 10.740 24 24c0 13.250-10.750 24-24 24z"/></svg>
<svg style="position:absolute;left:1109.50px;top:67.20px;color:#1083d3" width="12.50" height="16.30" viewBox="0 0 12.500 16.300" fill="currentColor" preserveAspectRatio="none"><path fill-rule="evenodd" d="M0 0H12.500L11.100 15.300Q11 16.300 10 16.300H2.500Q1.500 16.300 1.400 15.300zM1.550 1.400H10.950L10.470 6.600q-.603-.8-1.206 0t-1.206 0-1.206 0-1.206 0-1.206 0-1.206 0-1.206 0z"/></svg>
<svg style="position:absolute;left:1138.40px;top:67.20px;color:#1083d3" width="14.20" height="15.40" viewBox="0 0 512 512" fill="currentColor" preserveAspectRatio="none"><path d="M256 0C114.600 0 0 100.300 0 224c0 70.100 36.900 132.600 94.500 173.700 9.600 6.900 15.200 18.100 13.500 29.900l-9.400 66.200c-1.400 9.600 6 18.200 15.700 18.200H192v-56c0-4.400 3.600-8 8-8h16c4.400 0 8 3.600 8 8v56h64v-56c0-4.400 3.600-8 8-8h16c4.400 0 8 3.600 8 8v56h77.700c9.700 0 17.100-8.600 15.700-18.200l-9.400-66.200c-1.700-11.700 3.800-23 13.500-29.900C475.100 356.600 512 294.100 512 224 512 100.300 397.400 0 256 0zm-96 320c-35.300 0-64-28.700-64-64s28.700-64 64-64 64 28.700 64 64-28.700 64-64 64zm192 0c-35.300 0-64-28.700-64-64s28.700-64 64-64 64 28.700 64 64-28.700 64-64 64z"/></svg>
<svg style="position:absolute;left:1167.00px;top:66.00px;color:#1083d3" width="17.50" height="18.00" viewBox="0 0 17.500 18" fill="currentColor" preserveAspectRatio="none"><circle cx="12.300" cy="1.700" r="1.700"/><g fill="none" stroke="currentColor" stroke-linecap="round" stroke-linejoin="round"><path d="M10.600 4.800L7.400 10.400" stroke-width="3.200"/><path d="M10.800 5.200L13.500 7.300L16.600 5.800" stroke-width="1.700"/><path d="M9.600 4.300L5.800 4.000L3.800 6.600" stroke-width="1.700"/><path d="M7.300 10.600L4.600 13.000L1.100 17.000" stroke-width="2.300"/><path d="M7.800 10.300L11.200 12.300L10.000 16.300" stroke-width="2.200"/></g></svg>
<div style="position:absolute;left:907.00px;top:100.00px;width:284.00px;height:1.00px;background:#e8e8e8"></div>
<span class="t" style="left:907.50px;top:105.16px;font-size:9.5px;color:#8a8a8a;transform-origin:0 0;transform:scaleX(0.8791)">VIOLATIONS</span>
<span class="t" style="left:998.40px;top:105.16px;font-size:9.5px;color:#444;transform-origin:50% 0;transform:translateX(-50%) scaleX(0.9500)">1</span>
<span class="t" style="left:1027.30px;top:105.16px;font-size:9.5px;color:#444;transform-origin:50% 0;transform:translateX(-50%) scaleX(0.9500)">0</span>
<span class="t" style="left:1056.10px;top:105.16px;font-size:9.5px;color:#444;transform-origin:50% 0;transform:translateX(-50%) scaleX(0.9500)">0</span>
<span class="t" style="left:1085.40px;top:105.16px;font-size:9.5px;color:#444;transform-origin:50% 0;transform:translateX(-50%) scaleX(0.9500)">0</span>
<span class="t" style="left:1115.40px;top:105.16px;font-size:9.5px;color:#444;transform-origin:50% 0;transform:translateX(-50%) scaleX(0.9500)">0</span>
<span class="t" style="left:1146.20px;top:105.16px;font-size:9.5px;color:#444;transform-origin:50% 0;transform:translateX(-50%) scaleX(0.9500)">0</span>
<span class="t" style="left:1175.70px;top:105.16px;font-size:9.5px;color:#444;transform-origin:50% 0;transform:translateX(-50%) scaleX(0.9500)">0</span>
<div style="position:absolute;left:907.00px;top:120.10px;width:284.00px;height:1.00px;background:#e8e8e8"></div>
<span class="t" style="left:907.50px;top:125.26px;font-size:9.5px;color:#8a8a8a;transform-origin:0 0;transform:scaleX(0.8483)">POINTS</span>
<span class="t" style="left:998.40px;top:125.26px;font-size:9.5px;color:#444;transform-origin:50% 0;transform:translateX(-50%) scaleX(0.9500)">30</span>
<span class="t" style="left:1027.30px;top:125.26px;font-size:9.5px;color:#444;transform-origin:50% 0;transform:translateX(-50%) scaleX(0.9500)">0</span>
<span class="t" style="left:1056.10px;top:125.26px;font-size:9.5px;color:#444;transform-origin:50% 0;transform:translateX(-50%) scaleX(0.9500)">0</span>
<span class="t" style="left:1085.40px;top:125.26px;font-size:9.5px;color:#444;transform-origin:50% 0;transform:translateX(-50%) scaleX(0.9500)">0</span>
<span class="t" style="left:1115.40px;top:125.26px;font-size:9.5px;color:#444;transform-origin:50% 0;transform:translateX(-50%) scaleX(0.9500)">0</span>
<span class="t" style="left:1146.20px;top:125.26px;font-size:9.5px;color:#444;transform-origin:50% 0;transform:translateX(-50%) scaleX(0.9500)">0</span>
<span class="t" style="left:1175.70px;top:125.26px;font-size:9.5px;color:#444;transform-origin:50% 0;transform:translateX(-50%) scaleX(0.9500)">0</span>
<div style="position:absolute;left:907.00px;top:140.20px;width:284.00px;height:1.00px;background:#e8e8e8"></div>
<span class="t" style="left:907.50px;top:145.36px;font-size:9.5px;color:#8a8a8a;transform-origin:0 0;transform:scaleX(0.8560)">FLEET AVG.</span>
<span class="t" style="left:998.40px;top:145.36px;font-size:9.5px;color:#444;transform-origin:50% 0;transform:translateX(-50%) scaleX(0.9500)">0</span>
<span class="t" style="left:1027.30px;top:145.36px;font-size:9.5px;color:#444;transform-origin:50% 0;transform:translateX(-50%) scaleX(0.9500)">0</span>
<span class="t" style="left:1056.10px;top:145.36px;font-size:9.5px;color:#444;transform-origin:50% 0;transform:translateX(-50%) scaleX(0.9500)">0</span>
<span class="t" style="left:1085.40px;top:145.36px;font-size:9.5px;color:#444;transform-origin:50% 0;transform:translateX(-50%) scaleX(0.9500)">0</span>
<span class="t" style="left:1115.40px;top:145.36px;font-size:9.5px;color:#444;transform-origin:50% 0;transform:translateX(-50%) scaleX(0.9500)">0</span>
<span class="t" style="left:1146.20px;top:145.36px;font-size:9.5px;color:#444;transform-origin:50% 0;transform:translateX(-50%) scaleX(0.9500)">0</span>
<span class="t" style="left:1175.70px;top:145.36px;font-size:9.5px;color:#444;transform-origin:50% 0;transform:translateX(-50%) scaleX(0.9500)">0</span>
<div style="position:absolute;left:902.00px;top:171.00px;width:294.00px;height:127.00px;border:1px solid #e5e5e5;border-radius:3px;background:#fff;box-sizing:border-box"></div>
<span class="t" style="left:910.00px;top:181.16px;font-size:11.5px;color:#111;transform-origin:0 0;transform:scaleX(0.8800);font-weight:bold">SPEEDING</span>
<div style="position:absolute;left:912.00px;top:201.60px;width:47.60px;height:23.20px;background:#d5264f;border-radius:3px"></div>
<span class="t" style="left:935.80px;top:205.92px;font-size:14.5px;color:#fff;transform-origin:50% 0;transform:translateX(-50%) scaleX(0.9300);font-weight:bold">1479</span>
<span class="t" style="left:1018.40px;top:222.90px;font-size:6.5px;color:#3583c2;transform-origin:50% 0;transform:translateX(-50%) scaleX(0.9194);font-weight:bold">6-10 MPH OVER</span>
<span class="t" style="left:1089.00px;top:222.90px;font-size:6.5px;color:#3583c2;transform-origin:50% 0;transform:translateX(-50%) scaleX(0.9290);font-weight:bold">11-14 MPH OVER</span>
<span class="t" style="left:1157.90px;top:222.90px;font-size:6.5px;color:#3583c2;transform-origin:50% 0;transform:translateX(-50%) scaleX(0.9052);font-weight:bold">15+ MPH OVER</span>
<svg style="position:absolute;left:1008.20px;top:201.10px;color:#1083d3" width="20.50" height="12.60" viewBox="0 0 20.500 12.600" fill="currentColor" preserveAspectRatio="none"><path d="M10.250 0C4.600 0 0 4.400 0 9.600c0 .5.400.9.900.9h18.700c.5 0 .9-.4.900-.9C20.500 4.400 15.900 0 10.250 0z"/><g stroke="#fff" stroke-width="1.150" stroke-linecap="round"><line x1="2.900" y1="7.900" x2="4.400" y2="8.300"/><line x1="4.500" y1="4.000" x2="5.700" y2="5.000"/><line x1="9.300" y1="1.700" x2="9.600" y2="3.200"/></g><circle cx="9.600" cy="10.700" r="1.900"/><path d="M9.600 10.300L15.800 3.500" stroke="#fff" stroke-width="2.800" stroke-linecap="round"/><path d="M9.600 10.500L15.800 3.500" stroke="currentColor" stroke-width="1.100" stroke-linecap="round"/><circle cx="9.600" cy="10.800" r="1.000"/></svg>
<svg style="position:absolute;left:1078.80px;top:201.10px;color:#1083d3" width="20.50" height="12.60" viewBox="0 0 20.500 12.600" fill="currentColor" preserveAspectRatio="none"><path d="M10.250 0C4.600 0 0 4.400 0 9.600c0 .5.400.9.900.9h18.700c.5 0 .9-.4.900-.9C20.500 4.400 15.900 0 10.250 0z"/><g stroke="#fff" stroke-width="1.150" stroke-linecap="round"><line x1="2.900" y1="7.900" x2="4.400" y2="8.300"/><line x1="4.500" y1="4.000" x2="5.700" y2="5.000"/><line x1="9.300" y1="1.700" x2="9.600" y2="3.200"/></g><circle cx="9.600" cy="10.700" r="1.900"/><path d="M9.600 10.300L15.800 3.500" stroke="#fff" stroke-width="2.800" stroke-linecap="round"/><path d="M9.600 10.500L15.800 3.500" stroke="currentColor" stroke-width="1.100" stroke-linecap="round"/><circle cx="9.600" cy="10.800" r="1.000"/></svg>
<svg style="position:absolute;left:1147.70px;top:201.10px;color:#1083d3" width="20.50" height="12.60" viewBox="0 0 20.500 12.600" fill="currentColor" preserveAspectRatio="none"><path d="M10.250 0C4.600 0 0 4.400 0 9.600c0 .5.400.9.900.9h18.700c.5 0 .9-.4.900-.9C20.500 4.400 15.900 0 10.250 0z"/><g stroke="#fff" stroke-width="1.150" stroke-linecap="round"><line x1="2.900" y1="7.900" x2="4.400" y2="8.300"/><line x1="4.500" y1="4.000" x2="5.700" y2="5.000"/><line x1="9.300" y1="1.700" x2="9.600" y2="3.200"/></g><circle cx="9.600" cy="10.700" r="1.900"/><path d="M9.600 10.300L15.800 3.500" stroke="#fff" stroke-width="2.800" stroke-linecap="round"/><path d="M9.600 10.500L15.800 3.500" stroke="currentColor" stroke-width="1.100" stroke-linecap="round"/><circle cx="9.600" cy="10.800" r="1.000"/></svg>
<div style="position:absolute;left:907.00px;top:232.20px;width:284.00px;height:1.00px;background:#e8e8e8"></div>
<span class="t" style="left:907.50px;top:237.36px;font-size:9.5px;color:#8a8a8a;transform-origin:0 0;transform:scaleX(0.8419)">EVENTS</span>
<span class="t" style="left:1018.40px;top:237.36px;font-size:9.5px;color:#444;transform-origin:50% 0;transform:translateX(-50%) scaleX(0.9500)">222</span>
<span class="t" style="left:1089.00px;top:237.36px;font-size:9.5px;color:#444;transform-origin:50% 0;transform:translateX(-50%) scaleX(0.9500)">63</span>
<span class="t" style="left:1157.90px;top:237.36px;font-size:9.5px;color:#444;transform-origin:50% 0;transform:translateX(-50%) scaleX(0.9500)">15</span>
<div style="position:absolute;left:907.00px;top:252.30px;width:284.00px;height:1.00px;background:#e8e8e8"></div>
<span class="t" style="left:907.50px;top:257.46px;font-size:9.5px;color:#8a8a8a;transform-origin:0 0;transform:scaleX(0.8483)">POINTS</span>
<span class="t" style="left:1018.40px;top:257.46px;font-size:9.5px;color:#444;transform-origin:50% 0;transform:translateX(-50%) scaleX(0.9500)">888</span>
<span class="t" style="left:1089.00px;top:257.46px;font-size:9.5px;color:#444;transform-origin:50% 0;transform:translateX(-50%) scaleX(0.9500)">441</span>
<span class="t" style="left:1157.90px;top:257.46px;font-size:9.5px;color:#444;transform-origin:50% 0;transform:translateX(-50%) scaleX(0.9500)">150</span>
<div style="position:absolute;left:907.00px;top:272.40px;width:284.00px;height:1.00px;background:#e8e8e8"></div>
<span class="t" style="left:907.50px;top:277.56px;font-size:9.5px;color:#8a8a8a;transform-origin:0 0;transform:scaleX(0.8560)">FLEET AVG.</span>
<span class="t" style="left:1018.40px;top:277.56px;font-size:9.5px;color:#444;transform-origin:50% 0;transform:translateX(-50%) scaleX(0.9500)">426</span>
<span class="t" style="left:1089.00px;top:277.56px;font-size:9.5px;color:#444;transform-origin:50% 0;transform:translateX(-50%) scaleX(0.9500)">111</span>
<span class="t" style="left:1157.90px;top:277.56px;font-size:9.5px;color:#444;transform-origin:50% 0;transform:translateX(-50%) scaleX(0.9500)">21</span>
<div style="position:absolute;left:902.00px;top:303.00px;width:294.00px;height:127.00px;border:1px solid #e5e5e5;border-radius:3px;background:#fff;box-sizing:border-box"></div>
<span class="t" style="left:910.00px;top:313.36px;font-size:11.5px;color:#111;transform-origin:0 0;transform:scaleX(0.9029);font-weight:bold">HOS</span>
<div style="position:absolute;left:912.00px;top:333.80px;width:23.30px;height:23.20px;background:#35a937;border-radius:3px"></div>
<span class="t" style="left:923.65px;top:338.12px;font-size:14.5px;color:#fff;transform-origin:50% 0;transform:translateX(-50%) scaleX(0.9300);font-weight:bold">0</span>
<span class="t" style="left:1009.30px;top:353.97px;font-size:7px;color:#3583c2;transform-origin:50% 0;transform:translateX(-50%) scaleX(0.7834);font-weight:bold">BREAK</span>
<span class="t" style="left:1059.60px;top:353.97px;font-size:7px;color:#3583c2;transform-origin:50% 0;transform:translateX(-50%) scaleX(0.8399);font-weight:bold">DRIVING</span>
<span class="t" style="left:1112.00px;top:353.97px;font-size:7px;color:#3583c2;transform-origin:50% 0;transform:translateX(-50%) scaleX(0.8467);font-weight:bold">ON-DUTY</span>
<span class="t" style="left:1164.60px;top:353.97px;font-size:7px;color:#3583c2;transform-origin:50% 0;transform:translateX(-50%) scaleX(0.7798);font-weight:bold">CYCLE</span>
<svg style="position:absolute;left:1001.20px;top:331.60px;color:#1a76ba" width="16.40" height="16.40" viewBox="0 0 16.400 16.400" fill="currentColor" preserveAspectRatio="none"><circle cx="8.200" cy="8.200" r="7.300" fill="none" stroke="currentColor" stroke-width="1.800"/><path d="M7.100 3.900h1.900v4.100h3.900v1.900H7.100z"/></svg>
<svg style="position:absolute;left:1051.50px;top:331.60px;color:#1a76ba" width="16.40" height="16.40" viewBox="0 0 16.400 16.400" fill="currentColor" preserveAspectRatio="none"><circle cx="8.200" cy="8.200" r="7.300" fill="none" stroke="currentColor" stroke-width="1.800"/><path d="M7.100 3.900h1.900v4.100h3.900v1.900H7.100z"/></svg>
<svg style="position:absolute;left:1103.90px;top:331.60px;color:#1a76ba" width="16.40" height="16.40" viewBox="0 0 16.400 16.400" fill="currentColor" preserveAspectRatio="none"><circle cx="8.200" cy="8.200" r="7.300" fill="none" stroke="currentColor" stroke-width="1.800"/><path d="M7.100 3.900h1.900v4.100h3.900v1.900H7.100z"/></svg>
<svg style="position:absolute;left:1156.50px;top:331.60px;color:#1a76ba" width="16.40" height="16.40" viewBox="0 0 16.400 16.400" fill="currentColor" preserveAspectRatio="none"><circle cx="8.200" cy="8.200" r="7.300" fill="none" stroke="currentColor" stroke-width="1.800"/><path d="M7.100 3.900h1.900v4.100h3.900v1.900H7.100z"/></svg>
<div style="position:absolute;left:907.00px;top:364.40px;width:284.00px;height:1.00px;background:#e8e8e8"></div>
<span class="t" style="left:907.50px;top:369.56px;font-size:9.5px;color:#8a8a8a;transform-origin:0 0;transform:scaleX(0.8419)">EVENTS</span>
<span class="t" style="left:1009.30px;top:369.56px;font-size:9.5px;color:#444;transform-origin:50% 0;transform:translateX(-50%) scaleX(0.9500)">0</span>
<span class="t" style="left:1059.60px;top:369.56px;font-size:9.5px;color:#444;transform-origin:50% 0;transform:translateX(-50%) scaleX(0.9500)">0</span>
<span class="t" style="left:1112.00px;top:369.56px;font-size:9.5px;color:#444;transform-origin:50% 0;transform:translateX(-50%) scaleX(0.9500)">0</span>
<span class="t" style="left:1164.60px;top:369.56px;font-size:9.5px;color:#444;transform-origin:50% 0;transform:translateX(-50%) scaleX(0.9500)">0</span>
<div style="position:absolute;left:907.00px;top:384.50px;width:284.00px;height:1.00px;background:#e8e8e8"></div>
<span class="t" style="left:907.50px;top:389.66px;font-size:9.5px;color:#8a8a8a;transform-origin:0 0;transform:scaleX(0.8483)">POINTS</span>
<span class="t" style="left:1009.30px;top:389.66px;font-size:9.5px;color:#444;transform-origin:50% 0;transform:translateX(-50%) scaleX(0.9500)">0</span>
<span class="t" style="left:1059.60px;top:389.66px;font-size:9.5px;color:#444;transform-origin:50% 0;transform:translateX(-50%) scaleX(0.9500)">0</span>
<span class="t" style="left:1112.00px;top:389.66px;font-size:9.5px;color:#444;transform-origin:50% 0;transform:translateX(-50%) scaleX(0.9500)">0</span>
<span class="t" style="left:1164.60px;top:389.66px;font-size:9.5px;color:#444;transform-origin:50% 0;transform:translateX(-50%) scaleX(0.9500)">0</span>
<div style="position:absolute;left:907.00px;top:404.60px;width:284.00px;height:1.00px;background:#e8e8e8"></div>
<span class="t" style="left:907.50px;top:409.76px;font-size:9.5px;color:#8a8a8a;transform-origin:0 0;transform:scaleX(0.8560)">FLEET AVG.</span>
<span class="t" style="left:1009.30px;top:409.76px;font-size:9.5px;color:#444;transform-origin:50% 0;transform:translateX(-50%) scaleX(0.9500)">2</span>
<span class="t" style="left:1059.60px;top:409.76px;font-size:9.5px;color:#444;transform-origin:50% 0;transform:translateX(-50%) scaleX(0.9500)">0</span>
<span class="t" style="left:1112.00px;top:409.76px;font-size:9.5px;color:#444;transform-origin:50% 0;transform:translateX(-50%) scaleX(0.9500)">3</span>
<span class="t" style="left:1164.60px;top:409.76px;font-size:9.5px;color:#444;transform-origin:50% 0;transform:translateX(-50%) scaleX(0.9500)">0</span>
<div style="position:absolute;left:902.00px;top:435.00px;width:294.00px;height:127.00px;border:1px solid #e5e5e5;border-radius:3px;background:#fff;box-sizing:border-box"></div>
<span class="t" style="left:910.00px;top:445.16px;font-size:11.5px;color:#111;transform-origin:0 0;transform:scaleX(0.8874);font-weight:bold">DRIVER BEHAVIOR</span>
<div style="position:absolute;left:912.00px;top:465.60px;width:23.30px;height:23.20px;background:#35a937;border-radius:3px"></div>
<span class="t" style="left:923.65px;top:469.92px;font-size:14.5px;color:#fff;transform-origin:50% 0;transform:translateX(-50%) scaleX(0.9300);font-weight:bold">0</span>
<span class="t" style="left:1004.30px;top:485.77px;font-size:7px;color:#3583c2;transform-origin:50% 0;transform:translateX(-50%) scaleX(0.8110);font-weight:bold">START</span>
<span class="t" style="left:1045.00px;top:485.77px;font-size:7px;color:#3583c2;transform-origin:50% 0;transform:translateX(-50%) scaleX(0.8187);font-weight:bold">STOP</span>
<span class="t" style="left:1107.30px;top:485.77px;font-size:7px;color:#3583c2;transform-origin:50% 0;transform:translateX(-50%) scaleX(0.8269);font-weight:bold">SAFETY SYSTEMS</span>
<span class="t" style="left:1170.00px;top:485.77px;font-size:7px;color:#3583c2;transform-origin:50% 0;transform:translateX(-50%) scaleX(0.8148);font-weight:bold">REVIEW</span>
<svg style="position:absolute;left:999.40px;top:461.90px;color:#1083d3" width="9.80" height="19.00" viewBox="0 0 11 18.500" fill="currentColor" preserveAspectRatio="none"><path d="M5.500 0C7.600 0 9 1.200 9 3L11 3C11 4.800 10.200 5.800 9 6.300L9 7.500L11 7.500C11 9.300 10.200 10.300 9 10.800L9 12L11 12C11 13.800 10.200 14.800 9 15.300C8.600 16.800 7 17.800 5.500 18.500C4 17.800 2.400 16.800 2 15.300C.8 14.800 0 13.800 0 12L2 12L2 10.800C.8 10.300 0 9.300 0 7.500L2 7.500L2 6.300C.8 5.800 0 4.800 0 3L2 3C2 1.200 3.400 0 5.500 0Z"/><circle cx="5.500" cy="3.7" r="1.900" fill="#d4eefc"/><circle cx="5.500" cy="8.3" r="1.900" fill="#d4eefc"/><circle cx="5.500" cy="12.9" r="1.900" fill="#d4eefc"/><circle cx="5.500" cy="12.9" r="0.900" fill="#2e93da"/></svg>
<svg style="position:absolute;left:1040.00px;top:461.90px;color:#1083d3" width="9.80" height="19.00" viewBox="0 0 11 18.500" fill="currentColor" preserveAspectRatio="none"><path d="M5.500 0C7.600 0 9 1.200 9 3L11 3C11 4.800 10.200 5.800 9 6.300L9 7.500L11 7.500C11 9.300 10.200 10.300 9 10.800L9 12L11 12C11 13.800 10.200 14.800 9 15.300C8.600 16.800 7 17.800 5.500 18.500C4 17.800 2.400 16.800 2 15.300C.8 14.800 0 13.800 0 12L2 12L2 10.800C.8 10.300 0 9.300 0 7.500L2 7.500L2 6.300C.8 5.800 0 4.800 0 3L2 3C2 1.200 3.400 0 5.500 0Z"/><circle cx="5.500" cy="3.7" r="1.900" fill="#d4eefc"/><circle cx="5.500" cy="3.7" r="0.900" fill="#2e93da"/><circle cx="5.500" cy="8.3" r="1.900" fill="#d4eefc"/><circle cx="5.500" cy="12.9" r="1.900" fill="#d4eefc"/></svg>
<svg style="position:absolute;left:1098.50px;top:463.00px;color:#1083d3" width="17.50" height="16.00" viewBox="0 0 576 512" fill="currentColor" preserveAspectRatio="none"><path d="M569.517 440.013C587.975 472.007 564.806 512 527.940 512H48.054c-36.937 0-59.999-40.055-41.577-71.987L246.423 23.985c18.467-32.009 64.720-31.951 83.154 0l239.940 416.028zM288 354c-25.405 0-46 20.595-46 46s20.595 46 46 46 46-20.595 46-46-20.595-46-46-46zm-43.673-165.346l7.418 136c.347 6.364 5.609 11.346 11.982 11.346h48.546c6.373 0 11.635-4.982 11.982-11.346l7.418-136c.375-6.874-5.098-12.654-11.982-12.654h-63.383c-6.884 0-12.356 5.780-11.981 12.654z"/></svg>
<svg style="position:absolute;left:1162.00px;top:462.50px;color:#1083d3" width="17.00" height="17.00" viewBox="8 8 496 496" fill="currentColor" preserveAspectRatio="none"><path d="M504 256c0 136.967-111.033 248-248 248S8 392.967 8 256 119.033 8 256 8s248 111.033 248 248zM227.314 387.314l184-184c6.248-6.248 6.248-16.379 0-22.627l-22.627-22.627c-6.248-6.249-16.379-6.249-22.628 0L216 308.118l-70.059-70.059c-6.248-6.248-16.379-6.248-22.628 0l-22.627 22.627c-6.248 6.248-6.248 16.379 0 22.627l104 104c6.249 6.249 16.379 6.249 22.628.001z"/></svg>
<div style="position:absolute;left:907.00px;top:496.20px;width:284.00px;height:1.00px;background:#e8e8e8"></div>
<span class="t" style="left:907.50px;top:501.36px;font-size:9.5px;color:#8a8a8a;transform-origin:0 0;transform:scaleX(0.8419)">EVENTS</span>
<span class="t" style="left:1004.30px;top:501.36px;font-size:9.5px;color:#444;transform-origin:50% 0;transform:translateX(-50%) scaleX(0.9500)">0</span>
<span class="t" style="left:1045.00px;top:501.36px;font-size:9.5px;color:#444;transform-origin:50% 0;transform:translateX(-50%) scaleX(0.9500)">0</span>
<span class="t" style="left:1107.30px;top:501.36px;font-size:9.5px;color:#444;transform-origin:50% 0;transform:translateX(-50%) scaleX(0.9500)">0</span>
<span class="t" style="left:1170.00px;top:501.36px;font-size:9.5px;color:#444;transform-origin:50% 0;transform:translateX(-50%) scaleX(0.9500)">0</span>
<div style="position:absolute;left:907.00px;top:516.30px;width:284.00px;height:1.00px;background:#e8e8e8"></div>
<span class="t" style="left:907.50px;top:521.46px;font-size:9.5px;color:#8a8a8a;transform-origin:0 0;transform:scaleX(0.8483)">POINTS</span>
<span class="t" style="left:1004.30px;top:521.46px;font-size:9.5px;color:#444;transform-origin:50% 0;transform:translateX(-50%) scaleX(0.9500)">0</span>
<span class="t" style="left:1045.00px;top:521.46px;font-size:9.5px;color:#444;transform-origin:50% 0;transform:translateX(-50%) scaleX(0.9500)">0</span>
<span class="t" style="left:1107.30px;top:521.46px;font-size:9.5px;color:#444;transform-origin:50% 0;transform:translateX(-50%) scaleX(0.9500)">0</span>
<span class="t" style="left:1170.00px;top:521.46px;font-size:9.5px;color:#444;transform-origin:50% 0;transform:translateX(-50%) scaleX(0.9500)">0</span>
<div style="position:absolute;left:907.00px;top:536.40px;width:284.00px;height:1.00px;background:#e8e8e8"></div>
<span class="t" style="left:907.50px;top:541.56px;font-size:9.5px;color:#8a8a8a;transform-origin:0 0;transform:scaleX(0.8560)">FLEET AVG.</span>
<span class="t" style="left:1004.30px;top:541.56px;font-size:9.5px;color:#444;transform-origin:50% 0;transform:translateX(-50%) scaleX(0.9500)">7</span>
<span class="t" style="left:1045.00px;top:541.56px;font-size:9.5px;color:#444;transform-origin:50% 0;transform:translateX(-50%) scaleX(0.9500)">42</span>
<span class="t" style="left:1107.30px;top:541.56px;font-size:9.5px;color:#444;transform-origin:50% 0;transform:translateX(-50%) scaleX(0.9500)">0</span>
<span class="t" style="left:1170.00px;top:541.56px;font-size:9.5px;color:#444;transform-origin:50% 0;transform:translateX(-50%) scaleX(0.9500)">0</span>
<div id="mask"></div>
</body></html>
